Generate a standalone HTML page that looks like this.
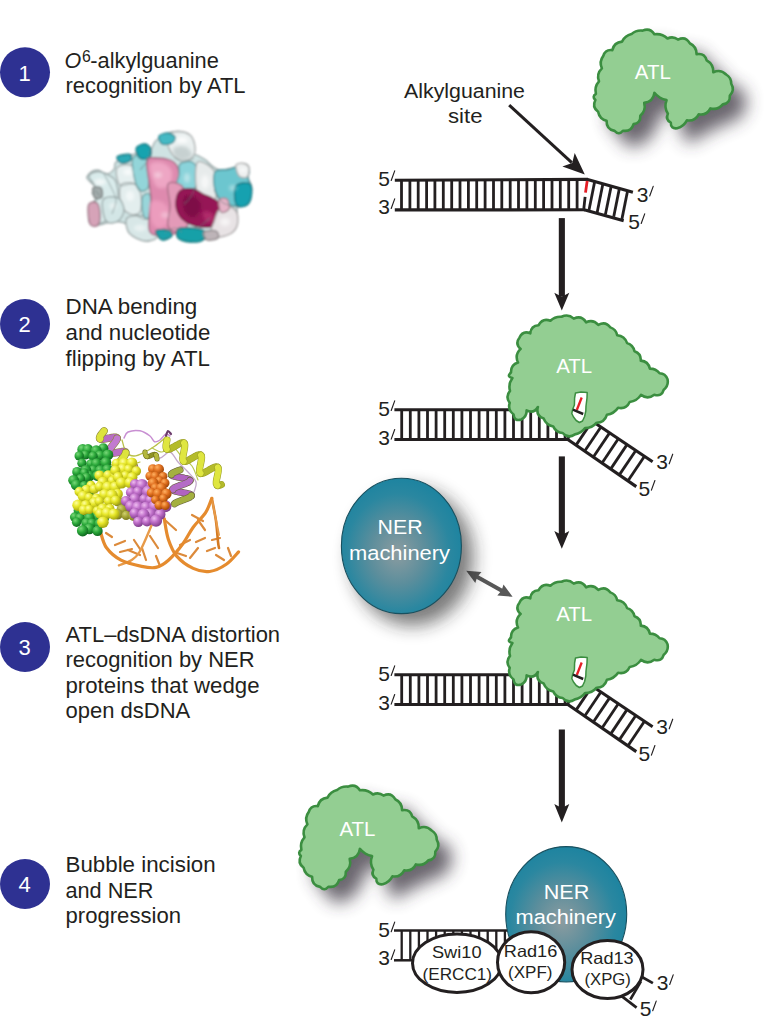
<!DOCTYPE html>
<html><head><meta charset="utf-8"><style>
html,body{margin:0;padding:0;background:#fff;}
body{width:775px;height:1024px;overflow:hidden;position:relative;}
svg{position:absolute;left:0;top:0;}
text{font-family:"Liberation Sans", sans-serif;}
</style></head><body>
<svg width="775" height="1024" viewBox="0 0 775 1024">
<defs><filter id="shadow" x="-40%" y="-40%" width="180%" height="180%"><feGaussianBlur stdDeviation="8.5"/></filter><filter id="sblur" x="-40%" y="-40%" width="180%" height="180%"><feGaussianBlur stdDeviation="9"/></filter><radialGradient id="nerg" cx="0.47" cy="0.55" r="0.58"><stop offset="0" stop-color="#8c9ca0"/><stop offset="0.4" stop-color="#5c8e9c"/><stop offset="0.75" stop-color="#2a87a0"/><stop offset="1" stop-color="#1a83a0"/></radialGradient><filter id="s1blur" x="-10%" y="-10%" width="120%" height="120%"><feGaussianBlur stdDeviation="0.8"/></filter><filter id="s1soft" x="-20%" y="-20%" width="140%" height="140%"><feGaussianBlur stdDeviation="1.8"/></filter><radialGradient id="gG" cx="0.35" cy="0.3" r="0.7"><stop offset="0" stop-color="#78d878"/><stop offset="0.5" stop-color="#2ba83a"/><stop offset="1" stop-color="#0f6a20"/></radialGradient><radialGradient id="gY" cx="0.35" cy="0.3" r="0.7"><stop offset="0" stop-color="#ffffa0"/><stop offset="0.45" stop-color="#e8e82c"/><stop offset="1" stop-color="#a8a810"/></radialGradient><radialGradient id="gO" cx="0.35" cy="0.3" r="0.7"><stop offset="0" stop-color="#d0d070"/><stop offset="0.5" stop-color="#a8a838"/><stop offset="1" stop-color="#7c7c20"/></radialGradient><radialGradient id="gP" cx="0.35" cy="0.3" r="0.7"><stop offset="0" stop-color="#eebcf0"/><stop offset="0.45" stop-color="#c070ca"/><stop offset="1" stop-color="#82408e"/></radialGradient><radialGradient id="gR" cx="0.35" cy="0.3" r="0.7"><stop offset="0" stop-color="#ffb060"/><stop offset="0.5" stop-color="#e07020"/><stop offset="1" stop-color="#a04808"/></radialGradient><filter id="s2blur" x="-10%" y="-10%" width="120%" height="120%"><feGaussianBlur stdDeviation="0.45"/></filter></defs>
<circle cx="25" cy="72.3" r="25" fill="#2e3192"/>
<text x="24.6" y="80.5" font-size="22" fill="#fff" text-anchor="middle">1</text>
<circle cx="25" cy="324" r="25" fill="#2e3192"/>
<text x="24.6" y="332.2" font-size="22" fill="#fff" text-anchor="middle">2</text>
<circle cx="25" cy="647" r="25" fill="#2e3192"/>
<text x="24.6" y="655.2" font-size="22" fill="#fff" text-anchor="middle">3</text>
<circle cx="25" cy="884" r="25" fill="#2e3192"/>
<text x="24.6" y="892.2" font-size="22" fill="#fff" text-anchor="middle">4</text>
<text x="64.6" y="67.8" font-size="21.5" font-style="italic" fill="#231f20">O</text>
<text x="81.9" y="61.6" font-size="15.8" fill="#231f20">6</text>
<text transform="translate(90.3,67.8) scale(1,1.075)" x="0" y="0" font-size="21" fill="#231f20" textLength="128.6" lengthAdjust="spacingAndGlyphs">-alkylguanine</text>
<text transform="translate(65.5,93) scale(1,1.075)" x="0" y="0" font-size="21" fill="#231f20" textLength="180" lengthAdjust="spacingAndGlyphs">recognition by ATL</text>
<text transform="translate(65.5,314.0) scale(1,1.075)" x="0" y="0" font-size="21" fill="#231f20" textLength="131.8" lengthAdjust="spacingAndGlyphs">DNA bending</text>
<text transform="translate(65.5,340.1) scale(1,1.075)" x="0" y="0" font-size="21" fill="#231f20" textLength="144.8" lengthAdjust="spacingAndGlyphs">and nucleotide</text>
<text transform="translate(65.5,366.2) scale(1,1.075)" x="0" y="0" font-size="21" fill="#231f20" textLength="144.4" lengthAdjust="spacingAndGlyphs">flipping by ATL</text>
<text transform="translate(65.5,641.8) scale(1,1.075)" x="0" y="0" font-size="21" fill="#231f20" textLength="214.6" lengthAdjust="spacingAndGlyphs">ATL–dsDNA distortion</text>
<text transform="translate(65.5,667.1999999999999) scale(1,1.075)" x="0" y="0" font-size="21" fill="#231f20" textLength="189" lengthAdjust="spacingAndGlyphs">recognition by NER</text>
<text transform="translate(65.5,692.5999999999999) scale(1,1.075)" x="0" y="0" font-size="21" fill="#231f20" textLength="194" lengthAdjust="spacingAndGlyphs">proteins that wedge</text>
<text transform="translate(65.5,718.0) scale(1,1.075)" x="0" y="0" font-size="21" fill="#231f20" textLength="124.8" lengthAdjust="spacingAndGlyphs">open dsDNA</text>
<text transform="translate(65.5,872.3) scale(1,1.075)" x="0" y="0" font-size="21" fill="#231f20" textLength="150.2" lengthAdjust="spacingAndGlyphs">Bubble incision</text>
<text transform="translate(65.5,897.8) scale(1,1.075)" x="0" y="0" font-size="21" fill="#231f20" textLength="88" lengthAdjust="spacingAndGlyphs">and NER</text>
<text transform="translate(65.5,923.3) scale(1,1.075)" x="0" y="0" font-size="21" fill="#231f20" textLength="115.5" lengthAdjust="spacingAndGlyphs">progression</text>
<line x1="394.8" y1="180.3" x2="587.5" y2="179.4" stroke="#231f20" stroke-width="3.1" stroke-linecap="butt"/>
<line x1="394.8" y1="209.9" x2="585.0" y2="209.8" stroke="#231f20" stroke-width="3.1" stroke-linecap="butt"/>
<line x1="586.7" y1="179.2" x2="632.9" y2="192.2" stroke="#231f20" stroke-width="3.1" stroke-linecap="butt"/>
<line x1="584.2" y1="209.8" x2="623.7" y2="220.8" stroke="#231f20" stroke-width="3.1" stroke-linecap="butt"/>
<line x1="401.5" y1="180.3" x2="401.5" y2="209.8" stroke="#231f20" stroke-width="2.8" stroke-linecap="butt"/>
<line x1="409.9" y1="180.3" x2="409.9" y2="209.8" stroke="#231f20" stroke-width="2.8" stroke-linecap="butt"/>
<line x1="418.2" y1="180.3" x2="418.2" y2="209.8" stroke="#231f20" stroke-width="2.8" stroke-linecap="butt"/>
<line x1="426.6" y1="180.3" x2="426.6" y2="209.8" stroke="#231f20" stroke-width="2.8" stroke-linecap="butt"/>
<line x1="434.9" y1="180.3" x2="434.9" y2="209.8" stroke="#231f20" stroke-width="2.8" stroke-linecap="butt"/>
<line x1="443.3" y1="180.3" x2="443.3" y2="209.8" stroke="#231f20" stroke-width="2.8" stroke-linecap="butt"/>
<line x1="451.7" y1="180.3" x2="451.7" y2="209.8" stroke="#231f20" stroke-width="2.8" stroke-linecap="butt"/>
<line x1="460.0" y1="180.3" x2="460.0" y2="209.8" stroke="#231f20" stroke-width="2.8" stroke-linecap="butt"/>
<line x1="468.4" y1="180.3" x2="468.4" y2="209.8" stroke="#231f20" stroke-width="2.8" stroke-linecap="butt"/>
<line x1="476.7" y1="180.3" x2="476.7" y2="209.8" stroke="#231f20" stroke-width="2.8" stroke-linecap="butt"/>
<line x1="485.1" y1="180.3" x2="485.1" y2="209.8" stroke="#231f20" stroke-width="2.8" stroke-linecap="butt"/>
<line x1="493.5" y1="180.3" x2="493.5" y2="209.8" stroke="#231f20" stroke-width="2.8" stroke-linecap="butt"/>
<line x1="501.8" y1="180.3" x2="501.8" y2="209.8" stroke="#231f20" stroke-width="2.8" stroke-linecap="butt"/>
<line x1="510.2" y1="180.3" x2="510.2" y2="209.8" stroke="#231f20" stroke-width="2.8" stroke-linecap="butt"/>
<line x1="518.5" y1="180.3" x2="518.5" y2="209.8" stroke="#231f20" stroke-width="2.8" stroke-linecap="butt"/>
<line x1="526.9" y1="180.3" x2="526.9" y2="209.8" stroke="#231f20" stroke-width="2.8" stroke-linecap="butt"/>
<line x1="535.3" y1="180.3" x2="535.3" y2="209.8" stroke="#231f20" stroke-width="2.8" stroke-linecap="butt"/>
<line x1="543.6" y1="180.3" x2="543.6" y2="209.8" stroke="#231f20" stroke-width="2.8" stroke-linecap="butt"/>
<line x1="552.0" y1="180.3" x2="552.0" y2="209.8" stroke="#231f20" stroke-width="2.8" stroke-linecap="butt"/>
<line x1="560.3" y1="180.3" x2="560.3" y2="209.8" stroke="#231f20" stroke-width="2.8" stroke-linecap="butt"/>
<line x1="568.7" y1="180.3" x2="568.7" y2="209.8" stroke="#231f20" stroke-width="2.8" stroke-linecap="butt"/>
<line x1="577.1" y1="180.3" x2="577.1" y2="209.8" stroke="#231f20" stroke-width="2.8" stroke-linecap="butt"/>
<line x1="594.7" y1="181.4" x2="589.0" y2="209.9" stroke="#231f20" stroke-width="2.8" stroke-linecap="butt"/>
<line x1="602.9" y1="183.8" x2="597.2" y2="212.2" stroke="#231f20" stroke-width="2.8" stroke-linecap="butt"/>
<line x1="611.2" y1="186.1" x2="605.4" y2="214.5" stroke="#231f20" stroke-width="2.8" stroke-linecap="butt"/>
<line x1="619.4" y1="188.4" x2="613.7" y2="216.8" stroke="#231f20" stroke-width="2.8" stroke-linecap="butt"/>
<line x1="627.6" y1="190.7" x2="621.9" y2="219.1" stroke="#231f20" stroke-width="2.8" stroke-linecap="butt"/>
<line x1="587.2" y1="180.9" x2="585.5" y2="192.6" stroke="#e41e26" stroke-width="2.8" stroke-linecap="butt"/>
<line x1="585.1" y1="196.8" x2="583.8" y2="208.8" stroke="#231f20" stroke-width="2.8" stroke-linecap="butt"/>
<text x="378.2" y="186.1" font-size="21" fill="#231f20">5</text>
<line x1="391.2" y1="180.5" x2="394.7" y2="170.9" stroke="#231f20" stroke-width="1.15" stroke-linecap="round"/>
<text x="378.2" y="214.1" font-size="21" fill="#231f20">3</text>
<line x1="391.2" y1="208.5" x2="394.7" y2="198.9" stroke="#231f20" stroke-width="1.15" stroke-linecap="round"/>
<text x="636.7" y="201.6" font-size="21" fill="#231f20">3</text>
<line x1="649.7" y1="196.0" x2="653.2" y2="186.4" stroke="#231f20" stroke-width="1.15" stroke-linecap="round"/>
<text x="628.2" y="229.1" font-size="21" fill="#231f20">5</text>
<line x1="641.2" y1="223.5" x2="644.7" y2="213.9" stroke="#231f20" stroke-width="1.15" stroke-linecap="round"/>
<line x1="394.4" y1="409.7" x2="576.5" y2="409.7" stroke="#231f20" stroke-width="3.1" stroke-linecap="butt"/>
<line x1="394.4" y1="439.5" x2="569.0" y2="439.5" stroke="#231f20" stroke-width="3.1" stroke-linecap="butt"/>
<line x1="401.7" y1="409.7" x2="401.7" y2="439.5" stroke="#231f20" stroke-width="2.8" stroke-linecap="butt"/>
<line x1="410.3" y1="409.7" x2="410.3" y2="439.5" stroke="#231f20" stroke-width="2.8" stroke-linecap="butt"/>
<line x1="418.9" y1="409.7" x2="418.9" y2="439.5" stroke="#231f20" stroke-width="2.8" stroke-linecap="butt"/>
<line x1="427.5" y1="409.7" x2="427.5" y2="439.5" stroke="#231f20" stroke-width="2.8" stroke-linecap="butt"/>
<line x1="436.1" y1="409.7" x2="436.1" y2="439.5" stroke="#231f20" stroke-width="2.8" stroke-linecap="butt"/>
<line x1="444.7" y1="409.7" x2="444.7" y2="439.5" stroke="#231f20" stroke-width="2.8" stroke-linecap="butt"/>
<line x1="453.3" y1="409.7" x2="453.3" y2="439.5" stroke="#231f20" stroke-width="2.8" stroke-linecap="butt"/>
<line x1="461.9" y1="409.7" x2="461.9" y2="439.5" stroke="#231f20" stroke-width="2.8" stroke-linecap="butt"/>
<line x1="470.5" y1="409.7" x2="470.5" y2="439.5" stroke="#231f20" stroke-width="2.8" stroke-linecap="butt"/>
<line x1="479.1" y1="409.7" x2="479.1" y2="439.5" stroke="#231f20" stroke-width="2.8" stroke-linecap="butt"/>
<line x1="487.7" y1="409.7" x2="487.7" y2="439.5" stroke="#231f20" stroke-width="2.8" stroke-linecap="butt"/>
<line x1="496.3" y1="409.7" x2="496.3" y2="439.5" stroke="#231f20" stroke-width="2.8" stroke-linecap="butt"/>
<line x1="504.9" y1="409.7" x2="504.9" y2="439.5" stroke="#231f20" stroke-width="2.8" stroke-linecap="butt"/>
<line x1="513.5" y1="409.7" x2="513.5" y2="439.5" stroke="#231f20" stroke-width="2.8" stroke-linecap="butt"/>
<line x1="522.1" y1="409.7" x2="522.1" y2="439.5" stroke="#231f20" stroke-width="2.8" stroke-linecap="butt"/>
<line x1="530.7" y1="409.7" x2="530.7" y2="439.5" stroke="#231f20" stroke-width="2.8" stroke-linecap="butt"/>
<line x1="539.3" y1="409.7" x2="539.3" y2="439.5" stroke="#231f20" stroke-width="2.8" stroke-linecap="butt"/>
<line x1="547.9" y1="409.7" x2="547.9" y2="439.5" stroke="#231f20" stroke-width="2.8" stroke-linecap="butt"/>
<line x1="556.5" y1="409.7" x2="556.5" y2="439.5" stroke="#231f20" stroke-width="2.8" stroke-linecap="butt"/>
<line x1="565.1" y1="409.7" x2="565.1" y2="439.5" stroke="#231f20" stroke-width="2.8" stroke-linecap="butt"/>
<line x1="575.2" y1="409.7" x2="652.6" y2="461.8" stroke="#231f20" stroke-width="3.1" stroke-linecap="butt"/>
<line x1="568.2" y1="439.8" x2="636.3" y2="486.6" stroke="#231f20" stroke-width="3.1" stroke-linecap="butt"/>
<line x1="583.5" y1="415.3" x2="567.0" y2="439.8" stroke="#231f20" stroke-width="2.8" stroke-linecap="butt"/>
<line x1="592.2" y1="421.1" x2="575.7" y2="445.6" stroke="#231f20" stroke-width="2.8" stroke-linecap="butt"/>
<line x1="600.9" y1="427.0" x2="584.4" y2="451.5" stroke="#231f20" stroke-width="2.8" stroke-linecap="butt"/>
<line x1="609.6" y1="432.9" x2="593.2" y2="457.3" stroke="#231f20" stroke-width="2.8" stroke-linecap="butt"/>
<line x1="618.3" y1="438.7" x2="601.9" y2="463.2" stroke="#231f20" stroke-width="2.8" stroke-linecap="butt"/>
<line x1="627.0" y1="444.6" x2="610.6" y2="469.1" stroke="#231f20" stroke-width="2.8" stroke-linecap="butt"/>
<line x1="635.8" y1="450.5" x2="619.3" y2="474.9" stroke="#231f20" stroke-width="2.8" stroke-linecap="butt"/>
<line x1="644.5" y1="456.3" x2="628.0" y2="480.8" stroke="#231f20" stroke-width="2.8" stroke-linecap="butt"/>
<text x="378.2" y="416.1" font-size="21" fill="#231f20">5</text>
<line x1="391.2" y1="410.5" x2="394.7" y2="400.9" stroke="#231f20" stroke-width="1.15" stroke-linecap="round"/>
<text x="378.2" y="444.70000000000005" font-size="21" fill="#231f20">3</text>
<line x1="391.2" y1="439.1" x2="394.7" y2="429.5" stroke="#231f20" stroke-width="1.15" stroke-linecap="round"/>
<text x="656.2" y="469.40000000000003" font-size="21" fill="#231f20">3</text>
<line x1="669.2" y1="463.8" x2="672.7" y2="454.2" stroke="#231f20" stroke-width="1.15" stroke-linecap="round"/>
<text x="638.4000000000001" y="495.70000000000005" font-size="21" fill="#231f20">5</text>
<line x1="651.4" y1="490.1" x2="654.9" y2="480.5" stroke="#231f20" stroke-width="1.15" stroke-linecap="round"/>
<line x1="394.4" y1="674.7" x2="576.5" y2="674.7" stroke="#231f20" stroke-width="3.1" stroke-linecap="butt"/>
<line x1="394.4" y1="704.5" x2="569.0" y2="704.5" stroke="#231f20" stroke-width="3.1" stroke-linecap="butt"/>
<line x1="401.7" y1="674.7" x2="401.7" y2="704.5" stroke="#231f20" stroke-width="2.8" stroke-linecap="butt"/>
<line x1="410.3" y1="674.7" x2="410.3" y2="704.5" stroke="#231f20" stroke-width="2.8" stroke-linecap="butt"/>
<line x1="418.9" y1="674.7" x2="418.9" y2="704.5" stroke="#231f20" stroke-width="2.8" stroke-linecap="butt"/>
<line x1="427.5" y1="674.7" x2="427.5" y2="704.5" stroke="#231f20" stroke-width="2.8" stroke-linecap="butt"/>
<line x1="436.1" y1="674.7" x2="436.1" y2="704.5" stroke="#231f20" stroke-width="2.8" stroke-linecap="butt"/>
<line x1="444.7" y1="674.7" x2="444.7" y2="704.5" stroke="#231f20" stroke-width="2.8" stroke-linecap="butt"/>
<line x1="453.3" y1="674.7" x2="453.3" y2="704.5" stroke="#231f20" stroke-width="2.8" stroke-linecap="butt"/>
<line x1="461.9" y1="674.7" x2="461.9" y2="704.5" stroke="#231f20" stroke-width="2.8" stroke-linecap="butt"/>
<line x1="470.5" y1="674.7" x2="470.5" y2="704.5" stroke="#231f20" stroke-width="2.8" stroke-linecap="butt"/>
<line x1="479.1" y1="674.7" x2="479.1" y2="704.5" stroke="#231f20" stroke-width="2.8" stroke-linecap="butt"/>
<line x1="487.7" y1="674.7" x2="487.7" y2="704.5" stroke="#231f20" stroke-width="2.8" stroke-linecap="butt"/>
<line x1="496.3" y1="674.7" x2="496.3" y2="704.5" stroke="#231f20" stroke-width="2.8" stroke-linecap="butt"/>
<line x1="504.9" y1="674.7" x2="504.9" y2="704.5" stroke="#231f20" stroke-width="2.8" stroke-linecap="butt"/>
<line x1="513.5" y1="674.7" x2="513.5" y2="704.5" stroke="#231f20" stroke-width="2.8" stroke-linecap="butt"/>
<line x1="522.1" y1="674.7" x2="522.1" y2="704.5" stroke="#231f20" stroke-width="2.8" stroke-linecap="butt"/>
<line x1="530.7" y1="674.7" x2="530.7" y2="704.5" stroke="#231f20" stroke-width="2.8" stroke-linecap="butt"/>
<line x1="539.3" y1="674.7" x2="539.3" y2="704.5" stroke="#231f20" stroke-width="2.8" stroke-linecap="butt"/>
<line x1="547.9" y1="674.7" x2="547.9" y2="704.5" stroke="#231f20" stroke-width="2.8" stroke-linecap="butt"/>
<line x1="556.5" y1="674.7" x2="556.5" y2="704.5" stroke="#231f20" stroke-width="2.8" stroke-linecap="butt"/>
<line x1="565.1" y1="674.7" x2="565.1" y2="704.5" stroke="#231f20" stroke-width="2.8" stroke-linecap="butt"/>
<line x1="575.2" y1="674.7" x2="652.6" y2="726.8" stroke="#231f20" stroke-width="3.1" stroke-linecap="butt"/>
<line x1="568.2" y1="704.8" x2="636.3" y2="751.6" stroke="#231f20" stroke-width="3.1" stroke-linecap="butt"/>
<line x1="583.5" y1="680.3" x2="567.0" y2="704.8" stroke="#231f20" stroke-width="2.8" stroke-linecap="butt"/>
<line x1="592.2" y1="686.1" x2="575.7" y2="710.6" stroke="#231f20" stroke-width="2.8" stroke-linecap="butt"/>
<line x1="600.9" y1="692.0" x2="584.4" y2="716.5" stroke="#231f20" stroke-width="2.8" stroke-linecap="butt"/>
<line x1="609.6" y1="697.9" x2="593.2" y2="722.3" stroke="#231f20" stroke-width="2.8" stroke-linecap="butt"/>
<line x1="618.3" y1="703.7" x2="601.9" y2="728.2" stroke="#231f20" stroke-width="2.8" stroke-linecap="butt"/>
<line x1="627.0" y1="709.6" x2="610.6" y2="734.1" stroke="#231f20" stroke-width="2.8" stroke-linecap="butt"/>
<line x1="635.8" y1="715.5" x2="619.3" y2="739.9" stroke="#231f20" stroke-width="2.8" stroke-linecap="butt"/>
<line x1="644.5" y1="721.3" x2="628.0" y2="745.8" stroke="#231f20" stroke-width="2.8" stroke-linecap="butt"/>
<text x="378.2" y="681.1" font-size="21" fill="#231f20">5</text>
<line x1="391.2" y1="675.5" x2="394.7" y2="665.9" stroke="#231f20" stroke-width="1.15" stroke-linecap="round"/>
<text x="378.2" y="709.7" font-size="21" fill="#231f20">3</text>
<line x1="391.2" y1="704.1" x2="394.7" y2="694.5" stroke="#231f20" stroke-width="1.15" stroke-linecap="round"/>
<text x="656.2" y="734.4" font-size="21" fill="#231f20">3</text>
<line x1="669.2" y1="728.8" x2="672.7" y2="719.2" stroke="#231f20" stroke-width="1.15" stroke-linecap="round"/>
<text x="638.4000000000001" y="760.7" font-size="21" fill="#231f20">5</text>
<line x1="651.4" y1="755.1" x2="654.9" y2="745.5" stroke="#231f20" stroke-width="1.15" stroke-linecap="round"/>
<rect x="558.8" y="218.1" width="6.1" height="78.6" fill="#231f20"/>
<path d="M554.3,292.7 L561.8,296.7 L569.3,292.7 L561.8,310.4 Z" fill="#231f20"/>
<rect x="558.8" y="456.4" width="6.1" height="78.70000000000005" fill="#231f20"/>
<path d="M554.3,531.1 L561.8,535.1 L569.3,531.1 L561.8,548.8 Z" fill="#231f20"/>
<rect x="558.8" y="729.5" width="6.1" height="78.60000000000002" fill="#231f20"/>
<path d="M554.3,804.1 L561.8,808.1 L569.3,804.1 L561.8,822.4 Z" fill="#231f20"/>
<line x1="509.2" y1="105.2" x2="571.8" y2="162.7" stroke="#231f20" stroke-width="3.0"/>
<path d="M584.8,174.6 L562.4,166.4 L572.2,163.0 L574.7,153.0 Z" fill="#231f20"/>
<line x1="476.0" y1="576.3" x2="502.8" y2="591.3" stroke="#585858" stroke-width="4.0"/>
<path d="M512.6,596.8 L497.3,595.5 L501.6,590.6 L503.5,584.5 Z" fill="#585858"/>
<path d="M466.2,570.8 L475.3,583.1 L477.2,577.0 L481.5,572.1 Z" fill="#585858"/>
<text x="404" y="97.9" font-size="20" fill="#231f20" textLength="121" lengthAdjust="spacingAndGlyphs">Alkylguanine</text>
<text x="448" y="122.8" font-size="20" fill="#231f20" textLength="34.5" lengthAdjust="spacingAndGlyphs">site</text>
<path d="M595.9,93.8 Q594.2,86.7 599.0,81.3 Q596.2,73.9 601.9,68.4 Q598.9,61.7 603.3,55.9 Q605.3,49.2 612.3,50.1 Q614.0,42.4 622.0,41.6 Q625.0,35.7 631.5,34.1 Q636.2,29.9 642.6,30.6 Q650.1,27.4 654.4,34.3 Q662.0,33.2 667.5,38.5 Q673.1,35.7 678.0,39.6 Q685.6,35.8 689.7,43.2 Q696.7,46.5 696.6,54.2 Q704.5,52.7 706.7,60.3 Q713.7,64.3 713.3,72.3 Q720.5,68.8 726.1,74.5 Q731.3,77.6 731.2,83.6 Q735.1,90.2 729.8,95.7 Q730.5,103.4 722.8,104.4 Q717.9,110.4 710.4,108.4 Q706.8,115.8 698.7,114.3 Q695.0,121.6 686.9,120.3 Q683.8,126.4 677.2,128.3 Q670.6,129.2 670.8,122.6 Q665.1,119.6 667.9,113.8 Q663.7,107.3 666.6,100.1 Q659.1,98.7 654.4,92.8 Q653.2,101.7 644.2,102.9 Q646.2,110.6 640.3,115.8 Q640.8,123.0 633.6,124.1 Q631.1,132.1 622.9,130.7 Q618.9,135.7 614.6,130.9 Q606.2,129.4 606.6,120.8 Q599.5,118.9 598.1,111.7 Q591.7,107.0 595.4,100.0 Q591.7,96.6 595.9,93.8Z" fill="#38323e" opacity="0.75" transform="translate(14,14)" filter="url(#shadow)"/>
<path d="M595.9,93.8 Q594.2,86.7 599.0,81.3 Q596.2,73.9 601.9,68.4 Q598.9,61.7 603.3,55.9 Q605.3,49.2 612.3,50.1 Q614.0,42.4 622.0,41.6 Q625.0,35.7 631.5,34.1 Q636.2,29.9 642.6,30.6 Q650.1,27.4 654.4,34.3 Q662.0,33.2 667.5,38.5 Q673.1,35.7 678.0,39.6 Q685.6,35.8 689.7,43.2 Q696.7,46.5 696.6,54.2 Q704.5,52.7 706.7,60.3 Q713.7,64.3 713.3,72.3 Q720.5,68.8 726.1,74.5 Q731.3,77.6 731.2,83.6 Q735.1,90.2 729.8,95.7 Q730.5,103.4 722.8,104.4 Q717.9,110.4 710.4,108.4 Q706.8,115.8 698.7,114.3 Q695.0,121.6 686.9,120.3 Q683.8,126.4 677.2,128.3 Q670.6,129.2 670.8,122.6 Q665.1,119.6 667.9,113.8 Q663.7,107.3 666.6,100.1 Q659.1,98.7 654.4,92.8 Q653.2,101.7 644.2,102.9 Q646.2,110.6 640.3,115.8 Q640.8,123.0 633.6,124.1 Q631.1,132.1 622.9,130.7 Q618.9,135.7 614.6,130.9 Q606.2,129.4 606.6,120.8 Q599.5,118.9 598.1,111.7 Q591.7,107.0 595.4,100.0 Q591.7,96.6 595.9,93.8Z" fill="#93ce92" stroke="#3b8e40" stroke-width="2.6" stroke-linejoin="round"/>
<text x="634.8" y="79.3" font-size="20" fill="#fff" textLength="36" lengthAdjust="spacingAndGlyphs">ATL</text>
<path d="M511.0,372.5 Q510.7,364.8 518.0,362.5 Q514.4,354.8 520.6,348.9 Q514.8,343.9 519.4,337.8 Q522.7,330.3 530.3,333.3 Q531.0,325.6 538.6,325.2 Q542.5,317.7 550.4,320.7 Q555.1,316.3 561.5,316.8 Q568.3,313.6 573.8,318.6 Q581.6,315.0 586.1,322.3 Q593.1,319.0 598.3,324.9 Q605.5,320.7 610.4,327.4 Q616.0,329.4 617.2,335.2 Q624.6,335.8 627.0,342.9 Q633.2,344.8 634.5,351.2 Q641.2,353.5 640.8,360.6 Q648.2,361.2 649.9,368.6 Q655.9,368.6 659.6,373.3 Q665.4,373.6 667.5,379.1 Q668.9,385.5 663.8,389.7 Q661.7,397.1 654.3,394.7 Q647.7,399.9 641.0,394.9 Q637.0,401.0 629.7,402.0 Q626.2,409.5 618.1,407.8 Q614.1,413.8 606.9,414.8 Q604.6,422.4 596.7,422.7 Q592.1,428.1 585.1,428.1 Q581.3,433.4 574.9,434.4 Q568.2,439.1 562.7,433.0 Q556.1,432.5 553.3,426.6 Q546.3,425.1 543.6,418.5 Q535.5,415.3 537.9,407.0 Q533.9,413.9 526.6,410.4 Q526.9,416.8 521.2,419.5 Q514.2,421.8 513.6,414.5 Q507.5,410.0 509.7,402.9 Q505.1,396.8 510.0,390.9 Q508.1,383.9 512.4,378.0 Q506.2,376.7 511.0,372.5Z" fill="#93ce92" stroke="#3b8e40" stroke-width="2.6" stroke-linejoin="round"/>
<text x="556.2" y="372.8" font-size="20" fill="#fff" textLength="36" lengthAdjust="spacingAndGlyphs">ATL</text>
<path d="M575.5,392.9 L581.0,392.0 L587.2,392.6 L587.0,398.0 L586.0,406.0 L585.8,411.0 L584.6,416.5 L582.5,421.0 L579.4,422.5 L576.2,420.5 L573.5,417.0 L571.8,413.5 L572.6,409.6 L574.4,405.0 L574.6,398.0Z" fill="#fff" stroke="#3b8e40" stroke-width="1.5" stroke-linejoin="round"/>
<line x1="581.7" y1="397.5" x2="576.8" y2="410.0" stroke="#e41e26" stroke-width="2.3" stroke-linecap="butt"/>
<line x1="572.9" y1="409.6" x2="583.2" y2="414.0" stroke="#231f20" stroke-width="2.5" stroke-linecap="butt"/>
<path d="M511.0,637.5 Q510.7,629.8 518.0,627.5 Q514.4,619.8 520.6,613.9 Q514.8,608.9 519.4,602.8 Q522.7,595.3 530.3,598.3 Q531.0,590.6 538.6,590.2 Q542.5,582.7 550.4,585.7 Q555.1,581.3 561.5,581.8 Q568.3,578.6 573.8,583.6 Q581.6,580.0 586.1,587.3 Q593.1,584.0 598.3,589.9 Q605.5,585.7 610.4,592.4 Q616.0,594.4 617.2,600.2 Q624.6,600.8 627.0,607.9 Q633.2,609.8 634.5,616.2 Q641.2,618.5 640.8,625.6 Q648.2,626.2 649.9,633.6 Q655.9,633.6 659.6,638.3 Q665.4,638.6 667.5,644.1 Q668.9,650.5 663.8,654.7 Q661.7,662.1 654.3,659.7 Q647.7,664.9 641.0,659.9 Q637.0,666.0 629.7,667.0 Q626.2,674.5 618.1,672.8 Q614.1,678.8 606.9,679.8 Q604.6,687.4 596.7,687.7 Q592.1,693.1 585.1,693.1 Q581.3,698.4 574.9,699.4 Q568.2,704.1 562.7,698.0 Q556.1,697.5 553.3,691.6 Q546.3,690.1 543.6,683.5 Q535.5,680.3 537.9,672.0 Q533.9,678.9 526.6,675.4 Q526.9,681.8 521.2,684.5 Q514.2,686.8 513.6,679.5 Q507.5,675.0 509.7,667.9 Q505.1,661.8 510.0,655.9 Q508.1,648.9 512.4,643.0 Q506.2,641.7 511.0,637.5Z" fill="#93ce92" stroke="#3b8e40" stroke-width="2.6" stroke-linejoin="round"/>
<text x="556.2" y="620.5" font-size="20" fill="#fff" textLength="36" lengthAdjust="spacingAndGlyphs">ATL</text>
<path d="M575.5,657.9 L581.0,657.0 L587.2,657.6 L587.0,663.0 L586.0,671.0 L585.8,676.0 L584.6,681.5 L582.5,686.0 L579.4,687.5 L576.2,685.5 L573.5,682.0 L571.8,678.5 L572.6,674.6 L574.4,670.0 L574.6,663.0Z" fill="#fff" stroke="#3b8e40" stroke-width="1.5" stroke-linejoin="round"/>
<line x1="581.7" y1="662.5" x2="576.8" y2="675.0" stroke="#e41e26" stroke-width="2.3" stroke-linecap="butt"/>
<line x1="572.9" y1="674.6" x2="583.2" y2="679.0" stroke="#231f20" stroke-width="2.5" stroke-linecap="butt"/>
<path d="M301.4,849.8 Q299.7,842.7 304.5,837.3 Q301.7,829.9 307.4,824.4 Q304.4,817.7 308.8,811.9 Q310.8,805.2 317.8,806.1 Q319.5,798.4 327.5,797.6 Q330.5,791.7 337.0,790.1 Q341.7,785.9 348.1,786.6 Q355.6,783.4 359.9,790.3 Q367.5,789.2 373.0,794.5 Q378.6,791.7 383.5,795.6 Q391.1,791.8 395.2,799.2 Q402.2,802.5 402.1,810.2 Q410.0,808.7 412.2,816.3 Q419.2,820.3 418.8,828.3 Q426.0,824.8 431.6,830.5 Q436.8,833.6 436.7,839.6 Q440.6,846.2 435.3,851.7 Q436.0,859.4 428.3,860.4 Q423.4,866.4 415.9,864.4 Q412.3,871.8 404.2,870.3 Q400.5,877.6 392.4,876.3 Q389.3,882.4 382.7,884.3 Q376.1,885.2 376.3,878.6 Q370.6,875.6 373.4,869.8 Q369.2,863.3 372.1,856.1 Q364.6,854.7 359.9,848.8 Q358.7,857.7 349.7,858.9 Q351.7,866.6 345.8,871.8 Q346.3,879.0 339.1,880.1 Q336.6,888.1 328.4,886.7 Q324.4,891.7 320.1,886.9 Q311.7,885.4 312.1,876.8 Q305.0,874.9 303.6,867.7 Q297.2,863.0 300.9,856.0 Q297.2,852.6 301.4,849.8Z" fill="#38323e" opacity="0.75" transform="translate(14,14)" filter="url(#shadow)"/>
<path d="M301.4,849.8 Q299.7,842.7 304.5,837.3 Q301.7,829.9 307.4,824.4 Q304.4,817.7 308.8,811.9 Q310.8,805.2 317.8,806.1 Q319.5,798.4 327.5,797.6 Q330.5,791.7 337.0,790.1 Q341.7,785.9 348.1,786.6 Q355.6,783.4 359.9,790.3 Q367.5,789.2 373.0,794.5 Q378.6,791.7 383.5,795.6 Q391.1,791.8 395.2,799.2 Q402.2,802.5 402.1,810.2 Q410.0,808.7 412.2,816.3 Q419.2,820.3 418.8,828.3 Q426.0,824.8 431.6,830.5 Q436.8,833.6 436.7,839.6 Q440.6,846.2 435.3,851.7 Q436.0,859.4 428.3,860.4 Q423.4,866.4 415.9,864.4 Q412.3,871.8 404.2,870.3 Q400.5,877.6 392.4,876.3 Q389.3,882.4 382.7,884.3 Q376.1,885.2 376.3,878.6 Q370.6,875.6 373.4,869.8 Q369.2,863.3 372.1,856.1 Q364.6,854.7 359.9,848.8 Q358.7,857.7 349.7,858.9 Q351.7,866.6 345.8,871.8 Q346.3,879.0 339.1,880.1 Q336.6,888.1 328.4,886.7 Q324.4,891.7 320.1,886.9 Q311.7,885.4 312.1,876.8 Q305.0,874.9 303.6,867.7 Q297.2,863.0 300.9,856.0 Q297.2,852.6 301.4,849.8Z" fill="#93ce92" stroke="#3b8e40" stroke-width="2.6" stroke-linejoin="round"/>
<text x="339.4" y="835.5" font-size="20" fill="#fff" textLength="36" lengthAdjust="spacingAndGlyphs">ATL</text>
<ellipse cx="412.4" cy="556.9" rx="61" ry="68.7" fill="#222" opacity="0.6" filter="url(#sblur)"/>
<ellipse cx="401.4" cy="545.9" rx="60" ry="67.7" fill="url(#nerg)" stroke="#18505f" stroke-width="1.1"/>
<text x="377.6" y="534.1" font-size="20.5" fill="#fff" textLength="45" lengthAdjust="spacingAndGlyphs">NER</text>
<text x="349" y="559.8" font-size="20.5" fill="#fff" textLength="101" lengthAdjust="spacingAndGlyphs">machinery</text>
<line x1="394.0" y1="930.5" x2="508.0" y2="930.5" stroke="#231f20" stroke-width="2.5" stroke-linecap="butt"/>
<line x1="394.0" y1="960.3" x2="420.0" y2="960.3" stroke="#231f20" stroke-width="2.5" stroke-linecap="butt"/>
<line x1="401.7" y1="930.5" x2="401.7" y2="960.3" stroke="#231f20" stroke-width="2.3" stroke-linecap="butt"/>
<line x1="410.3" y1="930.5" x2="410.3" y2="960.3" stroke="#231f20" stroke-width="2.3" stroke-linecap="butt"/>
<line x1="418.9" y1="930.5" x2="418.9" y2="960.3" stroke="#231f20" stroke-width="2.3" stroke-linecap="butt"/>
<line x1="427.5" y1="930.5" x2="427.5" y2="960.3" stroke="#231f20" stroke-width="2.3" stroke-linecap="butt"/>
<line x1="436.1" y1="930.5" x2="436.1" y2="960.3" stroke="#231f20" stroke-width="2.3" stroke-linecap="butt"/>
<line x1="444.7" y1="930.5" x2="444.7" y2="960.3" stroke="#231f20" stroke-width="2.3" stroke-linecap="butt"/>
<line x1="453.3" y1="930.5" x2="453.3" y2="960.3" stroke="#231f20" stroke-width="2.3" stroke-linecap="butt"/>
<line x1="461.9" y1="930.5" x2="461.9" y2="960.3" stroke="#231f20" stroke-width="2.3" stroke-linecap="butt"/>
<line x1="470.5" y1="930.5" x2="470.5" y2="960.3" stroke="#231f20" stroke-width="2.3" stroke-linecap="butt"/>
<line x1="479.1" y1="930.5" x2="479.1" y2="960.3" stroke="#231f20" stroke-width="2.3" stroke-linecap="butt"/>
<line x1="487.7" y1="930.5" x2="487.7" y2="960.3" stroke="#231f20" stroke-width="2.3" stroke-linecap="butt"/>
<line x1="496.3" y1="930.5" x2="496.3" y2="960.3" stroke="#231f20" stroke-width="2.3" stroke-linecap="butt"/>
<line x1="504.9" y1="930.5" x2="504.9" y2="960.3" stroke="#231f20" stroke-width="2.3" stroke-linecap="butt"/>
<text x="378.2" y="937.3000000000001" font-size="21" fill="#231f20">5</text>
<line x1="391.2" y1="931.7" x2="394.7" y2="922.1" stroke="#231f20" stroke-width="1.15" stroke-linecap="round"/>
<text x="378.2" y="965.1" font-size="21" fill="#231f20">3</text>
<line x1="391.2" y1="959.5" x2="394.7" y2="949.9" stroke="#231f20" stroke-width="1.15" stroke-linecap="round"/>
<ellipse cx="566.2" cy="914.3" rx="60.5" ry="67.7" fill="url(#nerg)" stroke="#18505f" stroke-width="1.1"/>
<text x="543.8" y="898.8" font-size="20.5" fill="#fff" textLength="45.5" lengthAdjust="spacingAndGlyphs">NER</text>
<text x="515.5" y="924.3" font-size="20.5" fill="#fff" textLength="100.5" lengthAdjust="spacingAndGlyphs">machinery</text>
<line x1="642.0" y1="977.0" x2="652.9" y2="983.2" stroke="#231f20" stroke-width="2.7" stroke-linecap="butt"/>
<line x1="621.3" y1="995.9" x2="636.6" y2="1007.6" stroke="#231f20" stroke-width="2.7" stroke-linecap="butt"/>
<line x1="641.0" y1="981.4" x2="630.3" y2="999.5" stroke="#231f20" stroke-width="2.6" stroke-linecap="butt"/>
<text x="656.7" y="990.1" font-size="21" fill="#231f20">3</text>
<line x1="669.7" y1="984.5" x2="673.2" y2="974.9" stroke="#231f20" stroke-width="1.15" stroke-linecap="round"/>
<text x="639.7" y="1016.3000000000001" font-size="21" fill="#231f20">5</text>
<line x1="652.7" y1="1010.7" x2="656.2" y2="1001.1" stroke="#231f20" stroke-width="1.15" stroke-linecap="round"/>
<ellipse cx="457" cy="963.2" rx="44.5" ry="29.2" fill="#fff" stroke="#231f20" stroke-width="3"/>
<text x="432" y="957.5" font-size="16.5" fill="#231f20" textLength="49.5" lengthAdjust="spacingAndGlyphs">Swi10</text>
<text x="422.5" y="980" font-size="16.5" fill="#231f20" textLength="69.5" lengthAdjust="spacingAndGlyphs">(ERCC1)</text>
<ellipse cx="531.1" cy="962.2" rx="33.6" ry="30.5" fill="#fff" stroke="#231f20" stroke-width="3"/>
<text x="503.8" y="957" font-size="16.5" fill="#231f20" textLength="53.5" lengthAdjust="spacingAndGlyphs">Rad16</text>
<text x="508" y="977.6" font-size="16.5" fill="#231f20" textLength="44.5" lengthAdjust="spacingAndGlyphs">(XPF)</text>
<ellipse cx="607.5" cy="969.5" rx="35.5" ry="29.0" fill="#fff" stroke="#231f20" stroke-width="3"/>
<text x="580.2" y="963.8" font-size="16.5" fill="#231f20" textLength="53.5" lengthAdjust="spacingAndGlyphs">Rad13</text>
<text x="584.4" y="984.9" font-size="16.5" fill="#231f20" textLength="46.5" lengthAdjust="spacingAndGlyphs">(XPG)</text>
<g filter="url(#s1blur)"><path d="M87.3,176.3 C88.1,175.1 90.4,172.4 92.2,171.4 C94.0,170.4 96.5,170.0 98.3,170.2 C100.1,170.4 101.6,172.0 103.2,172.6 C104.8,173.2 106.3,174.4 108.1,173.8 C109.9,173.2 113.0,170.8 114.2,169.0 C115.4,167.2 114.2,164.7 115.4,162.9 C116.6,161.1 119.3,159.2 121.5,158.0 C123.7,156.8 126.4,156.3 128.8,155.5 C131.2,154.7 134.4,154.7 136.2,153.1 C138.0,151.5 138.2,147.2 139.8,145.8 C141.4,144.4 144.1,143.9 145.9,144.5 C147.7,145.1 149.2,150.0 150.8,149.4 C152.4,148.8 153.2,143.3 155.7,140.9 C158.1,138.5 163.1,136.2 165.5,134.8 C167.9,133.4 167.7,132.9 170.0,132.3 C172.3,131.8 176.1,131.0 179.4,131.5 C182.7,132.0 187.2,133.2 189.7,135.3 C192.2,137.5 193.6,141.4 194.2,144.4 C194.8,147.4 192.8,151.5 193.5,153.4 C194.2,155.3 196.8,154.9 198.7,156.0 C200.6,157.1 202.6,157.9 205.2,159.8 C207.8,161.7 211.6,165.9 214.2,167.6 C216.8,169.3 218.2,170.0 220.6,170.2 C223.0,170.4 225.6,169.6 228.4,168.9 C231.2,168.2 234.8,167.2 237.4,166.3 C240.0,165.4 242.0,163.5 243.9,163.7 C245.8,163.9 248.4,165.4 249.0,167.6 C249.6,169.8 247.3,173.4 247.7,176.6 C248.1,179.8 251.2,183.4 251.6,186.9 C252.0,190.4 251.4,194.3 250.3,197.3 C249.2,200.3 247.3,203.3 245.2,205.0 C243.0,206.7 238.7,205.4 237.4,207.6 C236.1,209.8 237.8,214.5 237.4,217.9 C237.0,221.3 236.5,225.6 234.8,228.2 C233.1,230.8 230.1,231.9 227.1,233.4 C224.1,234.9 219.8,236.5 216.8,237.3 C213.8,238.2 211.8,238.1 209.0,238.5 C206.2,238.9 203.2,239.8 200.0,239.8 C196.8,239.8 192.9,239.1 189.7,238.5 C186.5,237.9 183.4,237.1 180.6,236.0 C177.8,234.9 175.5,232.6 172.9,232.1 C170.3,231.6 167.5,232.5 165.0,233.0 C162.5,233.5 160.9,233.6 158.1,234.9 C155.3,236.2 151.8,240.4 148.4,241.0 C145.0,241.6 140.7,240.0 137.4,238.6 C134.1,237.2 130.6,234.8 128.8,232.4 C127.0,230.0 128.6,225.7 126.4,223.9 C124.2,222.1 118.5,221.7 115.4,221.5 C112.4,221.3 110.9,222.1 108.1,222.7 C105.2,223.3 101.1,224.9 98.3,225.1 C95.5,225.3 92.6,225.1 91.0,223.9 C89.4,222.7 88.5,221.1 88.5,217.8 C88.5,214.6 89.6,207.7 91.0,204.4 C92.4,201.2 96.9,200.1 97.1,198.3 C97.3,196.5 92.4,195.0 92.2,193.4 C92.0,191.8 95.7,189.9 95.9,188.5 C96.1,187.1 94.8,186.4 93.4,184.8 C92.0,183.2 88.3,180.1 87.3,178.7 C86.3,177.3 86.5,177.5 87.3,176.3Z" fill="#cfe3e3" stroke="#95a3a3" stroke-width="1.3" opacity="1"/><path d="M89.0,176.0 C89.5,173.6 94.8,171.7 98.0,171.5 C101.2,171.3 105.2,173.6 108.0,175.0 C110.8,176.4 113.3,176.7 115.0,180.0 C116.7,183.3 118.0,189.7 118.0,195.0 C118.0,200.3 117.0,207.7 115.0,212.0 C113.0,216.3 109.2,219.3 106.0,221.0 C102.8,222.7 98.3,224.2 96.0,222.0 C93.7,219.8 91.8,212.0 92.0,208.0 C92.2,204.0 96.5,201.7 97.0,198.0 C97.5,194.3 96.3,189.7 95.0,186.0 C93.7,182.3 88.5,178.4 89.0,176.0Z" fill="#d9ebeb" stroke="#9ca9a9" stroke-width="1.3" opacity="1"/><path d="M117.0,168.0 C118.8,164.8 126.3,164.3 130.0,165.0 C133.7,165.7 137.5,168.5 139.0,172.0 C140.5,175.5 140.5,183.2 139.0,186.0 C137.5,188.8 133.3,189.3 130.0,189.0 C126.7,188.7 121.2,187.5 119.0,184.0 C116.8,180.5 115.2,171.2 117.0,168.0Z" fill="#e6f0f0" stroke="#a5acac" stroke-width="1.3" opacity="1"/><path d="M121.0,185.0 C123.3,181.7 131.7,182.2 135.0,184.0 C138.3,185.8 140.2,191.3 141.0,196.0 C141.8,200.7 141.8,209.0 140.0,212.0 C138.2,215.0 133.2,215.3 130.0,214.0 C126.8,212.7 122.5,208.8 121.0,204.0 C119.5,199.2 118.7,188.3 121.0,185.0Z" fill="#e3eeee" stroke="#a3abab" stroke-width="1.3" opacity="1"/><path d="M103.0,200.0 C105.0,196.2 114.5,196.3 118.0,198.0 C121.5,199.7 124.0,206.2 124.0,210.0 C124.0,213.8 121.0,219.2 118.0,221.0 C115.0,222.8 108.5,224.5 106.0,221.0 C103.5,217.5 101.0,203.8 103.0,200.0Z" fill="#d3e6e6" stroke="#97a5a5" stroke-width="1.3" opacity="1"/><path d="M93.0,188.0 C94.0,186.3 99.5,186.5 101.0,188.0 C102.5,189.5 103.0,195.3 102.0,197.0 C101.0,198.7 96.5,199.5 95.0,198.0 C93.5,196.5 92.0,189.7 93.0,188.0Z" fill="#a3acac" stroke="#757b7b" stroke-width="1.3" opacity="1"/><path d="M133.0,158.0 C135.0,154.5 143.3,153.0 146.0,155.0 C148.7,157.0 148.7,164.5 149.0,170.0 C149.3,175.5 149.7,184.7 148.0,188.0 C146.3,191.3 141.3,192.0 139.0,190.0 C136.7,188.0 135.0,181.3 134.0,176.0 C133.0,170.7 131.0,161.5 133.0,158.0Z" fill="#93d5d9" stroke="#69999c" stroke-width="1.3" opacity="1"/><path d="M137.0,147.0 C138.3,145.3 142.7,143.7 145.0,144.0 C147.3,144.3 150.2,146.8 151.0,149.0 C151.8,151.2 151.5,155.3 150.0,157.0 C148.5,158.7 144.2,159.5 142.0,159.0 C139.8,158.5 137.8,156.0 137.0,154.0 C136.2,152.0 135.7,148.7 137.0,147.0Z" fill="#17a3af" stroke="#10757e" stroke-width="1.3" opacity="1"/><path d="M117.0,157.0 C117.7,155.6 122.7,154.8 125.0,154.5 C127.3,154.2 130.2,153.9 131.0,155.0 C131.8,156.1 131.7,159.7 130.0,161.0 C128.3,162.3 123.2,163.7 121.0,163.0 C118.8,162.3 116.3,158.4 117.0,157.0Z" fill="#2aa9b5" stroke="#1e7982" stroke-width="1.3" opacity="1"/><path d="M88.5,205.0 C89.7,201.5 95.1,201.5 97.0,203.0 C98.9,204.5 99.8,210.3 100.0,214.0 C100.2,217.7 99.7,223.3 98.0,225.0 C96.3,226.7 91.6,227.3 90.0,224.0 C88.4,220.7 87.3,208.5 88.5,205.0Z" fill="#d6a3b8" stroke="#9a7584" stroke-width="1.3" opacity="1"/><path d="M127.0,218.0 C129.3,215.5 137.0,215.3 142.0,216.0 C147.0,216.7 154.3,218.7 157.0,222.0 C159.7,225.3 159.5,232.8 158.0,236.0 C156.5,239.2 151.7,240.7 148.0,241.0 C144.3,241.3 139.3,239.7 136.0,238.0 C132.7,236.3 129.5,234.3 128.0,231.0 C126.5,227.7 124.7,220.5 127.0,218.0Z" fill="#d8e7e7" stroke="#9ba6a6" stroke-width="1.3" opacity="1"/><path d="M143.0,196.0 C144.3,194.0 148.7,191.8 150.0,195.0 C151.3,198.2 151.8,211.2 151.0,215.0 C150.2,218.8 146.5,219.3 145.0,218.0 C143.5,216.7 142.3,210.7 142.0,207.0 C141.7,203.3 141.7,198.0 143.0,196.0Z" fill="#98d6da" stroke="#6d9a9c" stroke-width="1.3" opacity="1"/><path d="M147.0,160.0 C148.5,156.0 154.2,158.0 158.0,158.0 C161.8,158.0 166.8,158.7 170.0,160.0 C173.2,161.3 175.3,162.3 177.0,166.0 C178.7,169.7 180.2,176.7 180.0,182.0 C179.8,187.3 177.0,192.7 176.0,198.0 C175.0,203.3 173.0,209.0 174.0,214.0 C175.0,219.0 182.0,224.7 182.0,228.0 C182.0,231.3 177.7,232.7 174.0,234.0 C170.3,235.3 164.0,236.3 160.0,236.0 C156.0,235.7 151.8,235.0 150.0,232.0 C148.2,229.0 148.8,223.3 149.0,218.0 C149.2,212.7 151.0,206.0 151.0,200.0 C151.0,194.0 149.7,188.7 149.0,182.0 C148.3,175.3 145.5,164.0 147.0,160.0Z" fill="#de8aae" stroke="#9f637d" stroke-width="1.3" opacity="1"/><path d="M150.0,165.0 C151.2,161.2 159.3,161.8 163.0,163.0 C166.7,164.2 171.2,168.2 172.0,172.0 C172.8,175.8 170.7,183.7 168.0,186.0 C165.3,188.3 159.0,189.5 156.0,186.0 C153.0,182.5 148.8,168.8 150.0,165.0Z" fill="#eea6c4" stroke="none" stroke-width="0" opacity="1" filter="url(#s1soft)"/><path d="M151.0,202.0 C153.2,199.0 161.8,201.0 165.0,204.0 C168.2,207.0 170.8,216.0 170.0,220.0 C169.2,224.0 163.0,227.7 160.0,228.0 C157.0,228.3 153.5,226.3 152.0,222.0 C150.5,217.7 148.8,205.0 151.0,202.0Z" fill="#ec9cbd" stroke="none" stroke-width="0" opacity="1" filter="url(#s1soft)"/><path d="M156.0,231.0 C157.0,229.3 165.3,229.2 168.0,230.0 C170.7,230.8 173.0,234.3 172.0,236.0 C171.0,237.7 164.7,240.8 162.0,240.0 C159.3,239.2 155.0,232.7 156.0,231.0Z" fill="#1fa0a9" stroke="#167379" stroke-width="1.3" opacity="1"/><path d="M167.0,135.0 C168.8,132.6 175.2,131.5 179.0,131.5 C182.8,131.5 187.4,132.9 190.0,135.0 C192.6,137.1 193.8,140.7 194.5,144.0 C195.2,147.3 195.4,152.3 194.0,155.0 C192.6,157.7 189.2,159.7 186.0,160.0 C182.8,160.3 178.0,159.3 175.0,157.0 C172.0,154.7 169.3,149.7 168.0,146.0 C166.7,142.3 165.2,137.4 167.0,135.0Z" fill="#eaf0f0" stroke="#a8acac" stroke-width="1.3" opacity="1"/><path d="M174.0,148.0 C175.8,146.3 183.0,145.8 186.0,147.0 C189.0,148.2 192.3,152.8 192.0,155.0 C191.7,157.2 186.8,159.7 184.0,160.0 C181.2,160.3 176.7,159.0 175.0,157.0 C173.3,155.0 172.2,149.7 174.0,148.0Z" fill="#c7d1d1" stroke="none" stroke-width="0" opacity="1" filter="url(#s1soft)"/><path d="M159.0,136.0 C160.0,134.2 165.3,132.8 168.0,133.0 C170.7,133.2 174.3,135.3 175.0,137.0 C175.7,138.7 174.2,141.8 172.0,143.0 C169.8,144.2 164.2,145.2 162.0,144.0 C159.8,142.8 158.0,137.8 159.0,136.0Z" fill="#45b9c4" stroke="#31858d" stroke-width="1.3" opacity="1"/><path d="M180.0,164.0 C182.2,161.8 189.0,160.7 192.0,162.0 C195.0,163.3 197.3,168.0 198.0,172.0 C198.7,176.0 197.5,181.8 196.0,186.0 C194.5,190.2 191.7,195.0 189.0,197.0 C186.3,199.0 182.2,199.7 180.0,198.0 C177.8,196.3 176.2,190.8 176.0,187.0 C175.8,183.2 178.3,178.8 179.0,175.0 C179.7,171.2 177.8,166.2 180.0,164.0Z" fill="#8ad3da" stroke="#63979c" stroke-width="1.3" opacity="1"/><path d="M197.0,163.0 C199.0,159.3 204.8,163.0 208.0,165.0 C211.2,167.0 214.5,170.8 216.0,175.0 C217.5,179.2 217.5,185.2 217.0,190.0 C216.5,194.8 215.5,202.2 213.0,204.0 C210.5,205.8 204.8,203.8 202.0,201.0 C199.2,198.2 196.8,193.3 196.0,187.0 C195.2,180.7 195.0,166.7 197.0,163.0Z" fill="#e7ebeb" stroke="#a6a9a9" stroke-width="1.3" opacity="1"/><path d="M215.0,172.0 C217.2,168.6 224.2,170.3 228.0,169.5 C231.8,168.7 234.5,166.9 238.0,167.0 C241.5,167.1 247.3,168.2 249.0,170.0 C250.7,171.8 247.6,175.0 248.0,178.0 C248.4,181.0 251.2,184.7 251.5,188.0 C251.8,191.3 251.1,195.0 250.0,198.0 C248.9,201.0 247.7,204.7 245.0,206.0 C242.3,207.3 237.8,206.7 234.0,206.0 C230.2,205.3 225.2,204.7 222.0,202.0 C218.8,199.3 216.2,195.0 215.0,190.0 C213.8,185.0 212.8,175.4 215.0,172.0Z" fill="#6cc6cf" stroke="#4d8e95" stroke-width="1.3" opacity="1"/><path d="M236.0,186.0 C238.3,182.7 247.5,182.0 250.0,184.0 C252.5,186.0 251.8,194.3 251.0,198.0 C250.2,201.7 247.5,205.0 245.0,206.0 C242.5,207.0 237.5,207.3 236.0,204.0 C234.5,200.7 233.7,189.3 236.0,186.0Z" fill="#16a1b0" stroke="#0f737e" stroke-width="1.3" opacity="1"/><path d="M236.0,165.0 C236.8,162.9 241.8,163.0 244.0,163.5 C246.2,164.0 248.5,165.8 249.0,168.0 C249.5,170.2 248.7,175.7 247.0,177.0 C245.3,178.3 240.8,178.0 239.0,176.0 C237.2,174.0 235.2,167.1 236.0,165.0Z" fill="#eef0f0" stroke="#abacac" stroke-width="1.3" opacity="1"/><path d="M168.0,184.0 C170.0,180.7 179.0,182.7 182.0,186.0 C185.0,189.3 185.0,197.7 186.0,204.0 C187.0,210.3 189.3,219.3 188.0,224.0 C186.7,228.7 181.3,231.7 178.0,232.0 C174.7,232.3 169.3,230.3 168.0,226.0 C166.7,221.7 170.0,213.0 170.0,206.0 C170.0,199.0 166.0,187.3 168.0,184.0Z" fill="#e39ab8" stroke="#a36e84" stroke-width="1.3" opacity="1"/><path d="M180.0,191.0 C182.8,188.7 189.2,188.5 193.0,189.0 C196.8,189.5 199.8,192.5 203.0,194.0 C206.2,195.5 209.2,196.3 212.0,198.0 C214.8,199.7 218.5,201.3 220.0,204.0 C221.5,206.7 221.3,210.8 221.0,214.0 C220.7,217.2 220.0,220.8 218.0,223.0 C216.0,225.2 212.7,226.5 209.0,227.0 C205.3,227.5 199.8,226.8 196.0,226.0 C192.2,225.2 188.8,223.8 186.0,222.0 C183.2,220.2 180.7,218.2 179.0,215.0 C177.3,211.8 175.8,207.0 176.0,203.0 C176.2,199.0 177.2,193.3 180.0,191.0Z" fill="#961656" stroke="#6c0f3d" stroke-width="1.3" opacity="1"/><path d="M184.0,197.0 C185.8,194.3 193.2,195.3 196.0,197.0 C198.8,198.7 201.2,203.7 201.0,207.0 C200.8,210.3 197.7,216.0 195.0,217.0 C192.3,218.0 186.8,216.3 185.0,213.0 C183.2,209.7 182.2,199.7 184.0,197.0Z" fill="#7e0e46" stroke="none" stroke-width="0" opacity="1" filter="url(#s1soft)"/><path d="M203.0,212.0 C204.0,210.5 210.2,211.7 212.0,213.0 C213.8,214.3 215.0,218.5 214.0,220.0 C213.0,221.5 207.8,223.3 206.0,222.0 C204.2,220.7 202.0,213.5 203.0,212.0Z" fill="#b02a6a" stroke="none" stroke-width="0" opacity="1" filter="url(#s1soft)"/><path d="M219.0,210.0 C221.7,207.5 227.0,206.5 230.0,207.0 C233.0,207.5 235.8,209.8 237.0,213.0 C238.2,216.2 238.2,222.5 237.0,226.0 C235.8,229.5 233.3,232.2 230.0,234.0 C226.7,235.8 220.2,237.5 217.0,237.0 C213.8,236.5 211.5,233.5 211.0,231.0 C210.5,228.5 212.7,225.5 214.0,222.0 C215.3,218.5 216.3,212.5 219.0,210.0Z" fill="#e8e3e5" stroke="#a7a3a4" stroke-width="1.3" opacity="1"/><path d="M219.0,200.0 C220.0,197.8 225.3,197.5 227.0,199.0 C228.7,200.5 230.0,206.8 229.0,209.0 C228.0,211.2 222.7,213.5 221.0,212.0 C219.3,210.5 218.0,202.2 219.0,200.0Z" fill="#e5b3c7" stroke="#a4808f" stroke-width="1.3" opacity="1"/><path d="M178.0,229.0 C180.3,227.3 187.7,227.7 192.0,228.0 C196.3,228.3 202.2,229.0 204.0,231.0 C205.8,233.0 205.3,238.2 203.0,240.0 C200.7,241.8 194.2,242.3 190.0,242.0 C185.8,241.7 180.0,240.2 178.0,238.0 C176.0,235.8 175.7,230.7 178.0,229.0Z" fill="#17a0a8" stroke="#107378" stroke-width="1.3" opacity="1"/><path d="M204.0,232.0 C205.5,230.5 213.7,230.0 216.0,231.0 C218.3,232.0 219.5,236.5 218.0,238.0 C216.5,239.5 209.3,241.0 207.0,240.0 C204.7,239.0 202.5,233.5 204.0,232.0Z" fill="#bdb4b8" stroke="#888184" stroke-width="1.3" opacity="1"/><ellipse cx="100" cy="182" rx="6" ry="3" fill="#ffffff" opacity="0.7" filter="url(#s1soft)"/><ellipse cx="128" cy="172" rx="5" ry="3" fill="#ffffff" opacity="0.7" filter="url(#s1soft)"/><ellipse cx="130" cy="196" rx="4" ry="5" fill="#ffffff" opacity="0.6" filter="url(#s1soft)"/><ellipse cx="113" cy="206" rx="4" ry="3" fill="#ffffff" opacity="0.5" filter="url(#s1soft)"/><ellipse cx="182" cy="140" rx="6" ry="3" fill="#ffffff" opacity="0.8" filter="url(#s1soft)"/><ellipse cx="205" cy="182" rx="4" ry="7" fill="#ffffff" opacity="0.6" filter="url(#s1soft)"/><ellipse cx="225" cy="222" rx="5" ry="4" fill="#ffffff" opacity="0.6" filter="url(#s1soft)"/><ellipse cx="140" cy="228" rx="6" ry="3" fill="#ffffff" opacity="0.5" filter="url(#s1soft)"/><ellipse cx="158" cy="175" rx="4" ry="3" fill="#ffffff" opacity="0.35" filter="url(#s1soft)"/><ellipse cx="165" cy="215" rx="4" ry="3" fill="#ffffff" opacity="0.3" filter="url(#s1soft)"/><ellipse cx="187" cy="178" rx="3" ry="5" fill="#ffffff" opacity="0.4" filter="url(#s1soft)"/><ellipse cx="243" cy="170" rx="3" ry="2" fill="#ffffff" opacity="0.7" filter="url(#s1soft)"/><ellipse cx="233" cy="188" rx="4" ry="3" fill="#ffffff" opacity="0.35" filter="url(#s1soft)"/><path d="M104.0,174.0 C105.0,175.8 108.0,180.7 110.0,185.0 C112.0,189.3 115.7,195.2 116.0,200.0 C116.3,204.8 112.7,211.7 112.0,214.0" fill="none" stroke="#6d7c7c" stroke-width="1.2" opacity="0.45"/><path d="M121.0,186.0 C123.2,185.7 130.8,183.3 134.0,184.0 C137.2,184.7 139.0,189.0 140.0,190.0" fill="none" stroke="#6d7c7c" stroke-width="1.2" opacity="0.45"/><path d="M150.0,150.0 C149.7,151.7 149.7,156.7 148.0,160.0 C146.3,163.3 141.3,168.3 140.0,170.0" fill="none" stroke="#6d7c7c" stroke-width="1.2" opacity="0.45"/><path d="M174.0,157.0 C175.5,157.8 179.7,161.8 183.0,162.0 C186.3,162.2 192.2,158.7 194.0,158.0" fill="none" stroke="#6d7c7c" stroke-width="1.2" opacity="0.45"/><path d="M196.0,186.0 C195.0,188.0 192.0,195.0 190.0,198.0 C188.0,201.0 185.0,203.0 184.0,204.0" fill="none" stroke="#6d7c7c" stroke-width="1.2" opacity="0.45"/><path d="M214.0,190.0 C215.3,192.0 219.0,199.3 222.0,202.0 C225.0,204.7 230.3,205.3 232.0,206.0" fill="none" stroke="#6d7c7c" stroke-width="1.2" opacity="0.45"/><path d="M210.0,218.0 C208.3,219.3 203.3,224.3 200.0,226.0 C196.7,227.7 191.7,227.7 190.0,228.0" fill="none" stroke="#6d7c7c" stroke-width="1.2" opacity="0.45"/><path d="M135.0,214.0 C136.3,214.8 140.5,218.3 143.0,219.0 C145.5,219.7 148.8,218.2 150.0,218.0" fill="none" stroke="#6d7c7c" stroke-width="1.2" opacity="0.45"/><path d="M95.0,190.0 C95.8,191.0 99.2,195.0 100.0,196.0" fill="none" stroke="#6d7c7c" stroke-width="1.2" opacity="0.45"/><path d="M165.0,232.0 C166.7,231.3 172.2,228.0 175.0,228.0 C177.8,228.0 180.8,231.3 182.0,232.0" fill="none" stroke="#6d7c7c" stroke-width="1.2" opacity="0.45"/></g>
<g filter="url(#s2blur)"><line x1="106" y1="533" x2="112" y2="537" stroke="#dc8a3a" stroke-width="2.2" stroke-linecap="round"/><line x1="115" y1="545" x2="125" y2="541" stroke="#dc8a3a" stroke-width="2.2" stroke-linecap="round"/><line x1="120" y1="552" x2="132" y2="549" stroke="#dc8a3a" stroke-width="2.2" stroke-linecap="round"/><line x1="128" y1="550" x2="140" y2="555" stroke="#dc8a3a" stroke-width="2.2" stroke-linecap="round"/><line x1="134" y1="540" x2="140" y2="549" stroke="#dc8a3a" stroke-width="2.2" stroke-linecap="round"/><line x1="142" y1="548" x2="146" y2="560" stroke="#dc8a3a" stroke-width="2.2" stroke-linecap="round"/><line x1="150" y1="536" x2="158" y2="548" stroke="#dc8a3a" stroke-width="2.2" stroke-linecap="round"/><line x1="156" y1="556" x2="160" y2="566" stroke="#dc8a3a" stroke-width="2.2" stroke-linecap="round"/><line x1="166" y1="521" x2="176" y2="530" stroke="#dc8a3a" stroke-width="2.2" stroke-linecap="round"/><line x1="180" y1="545" x2="190" y2="540" stroke="#dc8a3a" stroke-width="2.2" stroke-linecap="round"/><line x1="177" y1="553" x2="186" y2="556" stroke="#dc8a3a" stroke-width="2.2" stroke-linecap="round"/><line x1="190" y1="558" x2="198" y2="548" stroke="#dc8a3a" stroke-width="2.2" stroke-linecap="round"/><line x1="196" y1="542" x2="205" y2="538" stroke="#dc8a3a" stroke-width="2.2" stroke-linecap="round"/><line x1="192" y1="515" x2="203" y2="521" stroke="#dc8a3a" stroke-width="2.2" stroke-linecap="round"/><line x1="198" y1="520" x2="205" y2="530" stroke="#dc8a3a" stroke-width="2.2" stroke-linecap="round"/><line x1="207" y1="551" x2="215" y2="548" stroke="#dc8a3a" stroke-width="2.2" stroke-linecap="round"/><line x1="212" y1="540" x2="220" y2="538" stroke="#dc8a3a" stroke-width="2.2" stroke-linecap="round"/><line x1="216" y1="555" x2="224" y2="560" stroke="#dc8a3a" stroke-width="2.2" stroke-linecap="round"/><line x1="228" y1="548" x2="231" y2="556" stroke="#dc8a3a" stroke-width="2.2" stroke-linecap="round"/><path d="M118.9,565.4 C121.0,564.5 127.9,562.4 131.3,560.2 C134.7,558.0 136.4,557.2 139.5,552.0 C142.6,546.8 147.2,535.5 149.9,529.2 C152.7,522.9 155.0,516.5 156.0,514.0" fill="none" stroke="#e79a48" stroke-width="2.4" stroke-linecap="round" opacity="1"/><path d="M211.8,498.3 C212.5,502.1 215.0,513.8 216.0,521.0 C217.0,528.2 217.5,537.1 218.0,541.6 C218.5,546.1 218.8,546.9 219.0,548.0" fill="none" stroke="#d57a22" stroke-width="2.6" stroke-linecap="round" opacity="1"/><path d="M211.8,498.3 C212.2,500.2 212.8,503.9 214.0,510.0 C215.2,516.1 218.2,530.8 219.0,535.0" fill="none" stroke="#e79a48" stroke-width="2.0" stroke-linecap="round" opacity="1"/><path d="M100.3,531.3 C101.3,534.0 103.0,543.0 106.5,547.8 C110.0,552.6 115.2,557.1 121.0,560.2 C126.8,563.3 135.8,565.2 141.6,566.4 C147.4,567.6 151.5,568.4 156.0,567.4 C160.5,566.4 163.9,564.2 168.4,560.2 C172.9,556.2 178.8,549.2 182.9,543.7 C187.0,538.2 189.4,532.4 193.2,527.2 C197.0,522.0 202.5,517.5 205.6,512.7 C208.7,507.9 210.8,500.7 211.8,498.3" fill="none" stroke="#e58b2e" stroke-width="3.2" stroke-linecap="round" opacity="1"/><path d="M164.3,518.9 C165.0,522.3 166.3,533.3 168.4,539.5 C170.5,545.7 172.6,551.3 176.7,556.1 C180.8,560.9 187.7,565.8 193.2,568.4 C198.7,571.0 204.2,572.2 209.7,571.5 C215.2,570.8 221.5,567.6 226.3,564.3 C231.1,561.0 236.6,554.0 238.6,551.9" fill="none" stroke="#e58b2e" stroke-width="3.2" stroke-linecap="round" opacity="1"/><path d="M124.0,438.0 C124.7,437.0 125.3,433.2 128.0,432.0 C130.7,430.8 136.3,430.1 140.0,430.8 C143.7,431.5 147.6,434.2 150.0,436.0 C152.4,437.8 152.9,441.0 154.6,441.7 C156.3,442.4 158.1,441.3 160.0,440.0 C161.9,438.7 164.3,434.7 166.0,434.0 C167.7,433.3 169.3,435.7 170.0,436.0" fill="none" stroke="#c88fd2" stroke-width="1.5" stroke-linecap="round"/><path d="M122.0,440.0 C122.7,442.0 124.0,449.3 126.0,452.0 C128.0,454.7 130.8,456.0 134.0,456.0 C137.2,456.0 141.5,453.7 145.0,452.0 C148.5,450.3 151.7,448.3 155.0,446.0 C158.3,443.7 163.3,439.3 165.0,438.0" fill="none" stroke="#b9c048" stroke-width="1.3" stroke-linecap="round"/><path d="M150.0,455.0 C151.7,455.5 156.7,458.5 160.0,458.0 C163.3,457.5 167.0,451.3 170.0,452.0 C173.0,452.7 175.0,458.7 178.0,462.0 C181.0,465.3 185.0,468.7 188.0,472.0 C191.0,475.3 195.0,478.7 196.0,482.0 C197.0,485.3 194.3,490.3 194.0,492.0" fill="none" stroke="#c4aacb" stroke-width="1.3" stroke-linecap="round"/><path d="M152.0,448.0 C153.7,448.7 158.7,452.3 162.0,452.0 C165.3,451.7 168.7,445.2 172.0,446.0 C175.3,446.8 178.7,453.7 182.0,457.0 C185.3,460.3 189.3,462.2 192.0,466.0 C194.7,469.8 197.0,477.7 198.0,480.0" fill="none" stroke="#b8c850" stroke-width="1.2" stroke-linecap="round"/><path d="M108.0,462.0 C110.0,463.3 116.0,469.5 120.0,470.0 C124.0,470.5 128.7,466.3 132.0,465.0 C135.3,463.7 138.7,462.5 140.0,462.0" fill="none" stroke="#b8c040" stroke-width="1.2" stroke-linecap="round"/><path d="M166.0,436.0 C166.3,435.2 167.2,431.3 168.0,431.0 C168.8,430.7 170.5,433.5 171.0,434.0" fill="none" stroke="#6a3a6a" stroke-width="2.2" stroke-linecap="round"/><path d="M166.8,449.1 L167.5,449.4 L168.3,449.4 L169.2,449.2 L170.3,448.8 L171.5,448.2 L172.8,447.5 L174.2,446.8 L175.5,445.9 L176.9,445.1 L178.3,444.4 L179.6,443.7 L180.7,443.2 L181.8,442.8 L182.7,442.7 L183.5,442.7 L184.0,443.0" fill="none" stroke="#9a9e28" stroke-width="7.1" stroke-linecap="round" stroke-linejoin="round"/><path d="M166.8,449.1 L167.5,449.4 L168.3,449.4 L169.2,449.2 L170.3,448.8 L171.5,448.2 L172.8,447.5 L174.2,446.8 L175.5,445.9 L176.9,445.1 L178.3,444.4 L179.6,443.7 L180.7,443.2 L181.8,442.8 L182.7,442.7 L183.5,442.7 L184.0,443.0" fill="none" stroke="#b4bb2a" stroke-width="6" stroke-linecap="round" stroke-linejoin="round"/><path d="M183.7,461.3 L184.4,461.5 L185.2,461.4 L186.2,461.2 L187.3,460.7 L188.6,460.1 L189.9,459.4 L191.2,458.6 L192.6,457.8 L194.0,457.0 L195.4,456.2 L196.6,455.6 L197.8,455.1 L198.8,454.8 L199.7,454.7 L200.4,454.8 L200.9,455.2" fill="none" stroke="#9a9e28" stroke-width="7.1" stroke-linecap="round" stroke-linejoin="round"/><path d="M183.7,461.3 L184.4,461.5 L185.2,461.4 L186.2,461.2 L187.3,460.7 L188.6,460.1 L189.9,459.4 L191.2,458.6 L192.6,457.8 L194.0,457.0 L195.4,456.2 L196.6,455.6 L197.8,455.1 L198.8,454.8 L199.7,454.7 L200.4,454.8 L200.9,455.2" fill="none" stroke="#b4bb2a" stroke-width="6" stroke-linecap="round" stroke-linejoin="round"/><path d="M200.6,473.4 L201.3,473.5 L202.2,473.4 L203.2,473.1 L204.4,472.7 L205.6,472.0 L207.0,471.3 L208.3,470.5 L209.7,469.7 L211.1,468.9 L212.4,468.1 L213.7,467.5 L214.8,467.1 L215.8,466.8 L216.6,466.8 L217.3,467.0 L217.8,467.4" fill="none" stroke="#9a9e28" stroke-width="7.1" stroke-linecap="round" stroke-linejoin="round"/><path d="M200.6,473.4 L201.3,473.5 L202.2,473.4 L203.2,473.1 L204.4,472.7 L205.6,472.0 L207.0,471.3 L208.3,470.5 L209.7,469.7 L211.1,468.9 L212.4,468.1 L213.7,467.5 L214.8,467.1 L215.8,466.8 L216.6,466.8 L217.3,467.0 L217.8,467.4" fill="none" stroke="#b4bb2a" stroke-width="6" stroke-linecap="round" stroke-linejoin="round"/><path d="M217.6,485.5 L218.3,485.6 L219.2,485.4 L220.3,485.1 L221.4,484.6" fill="none" stroke="#9a9e28" stroke-width="7.1" stroke-linecap="round" stroke-linejoin="round"/><path d="M217.6,485.5 L218.3,485.6 L219.2,485.4 L220.3,485.1 L221.4,484.6" fill="none" stroke="#b4bb2a" stroke-width="6" stroke-linecap="round" stroke-linejoin="round"/><path d="M167.0,440.0 L166.7,441.6 L166.4,443.1 L166.1,444.5 L166.0,445.8 L166.0,447.0 L166.1,447.9 L166.4,448.6 L166.8,449.1" fill="none" stroke="#9a9e28" stroke-width="7.1" stroke-linecap="round" stroke-linejoin="round"/><path d="M167.0,440.0 L166.7,441.6 L166.4,443.1 L166.1,444.5 L166.0,445.8 L166.0,447.0 L166.1,447.9 L166.4,448.6 L166.8,449.1" fill="none" stroke="#dfe640" stroke-width="6" stroke-linecap="round" stroke-linejoin="round"/><path d="M184.0,443.0 L184.5,443.6 L184.7,444.3 L184.8,445.3 L184.7,446.5 L184.6,447.8 L184.3,449.3 L184.0,450.9 L183.7,452.4 L183.4,454.0 L183.1,455.5 L182.9,456.9 L182.7,458.2 L182.8,459.3 L182.9,460.2 L183.2,460.8 L183.7,461.3" fill="none" stroke="#9a9e28" stroke-width="7.1" stroke-linecap="round" stroke-linejoin="round"/><path d="M184.0,443.0 L184.5,443.6 L184.7,444.3 L184.8,445.3 L184.7,446.5 L184.6,447.8 L184.3,449.3 L184.0,450.9 L183.7,452.4 L183.4,454.0 L183.1,455.5 L182.9,456.9 L182.7,458.2 L182.8,459.3 L182.9,460.2 L183.2,460.8 L183.7,461.3" fill="none" stroke="#dfe640" stroke-width="6" stroke-linecap="round" stroke-linejoin="round"/><path d="M200.9,455.2 L201.3,455.8 L201.5,456.6 L201.6,457.6 L201.5,458.9 L201.3,460.2 L201.0,461.7 L200.7,463.3 L200.4,464.9 L200.0,466.4 L199.8,467.9 L199.6,469.3 L199.5,470.5 L199.5,471.6 L199.7,472.4 L200.1,473.0 L200.6,473.4" fill="none" stroke="#9a9e28" stroke-width="7.1" stroke-linecap="round" stroke-linejoin="round"/><path d="M200.9,455.2 L201.3,455.8 L201.5,456.6 L201.6,457.6 L201.5,458.9 L201.3,460.2 L201.0,461.7 L200.7,463.3 L200.4,464.9 L200.0,466.4 L199.8,467.9 L199.6,469.3 L199.5,470.5 L199.5,471.6 L199.7,472.4 L200.1,473.0 L200.6,473.4" fill="none" stroke="#dfe640" stroke-width="6" stroke-linecap="round" stroke-linejoin="round"/><path d="M217.8,467.4 L218.1,468.0 L218.3,468.9 L218.3,470.0 L218.2,471.2 L218.0,472.6 L217.7,474.1 L217.4,475.7 L217.1,477.3 L216.7,478.8 L216.5,480.3 L216.3,481.7 L216.3,482.8 L216.3,483.8 L216.6,484.6 L217.0,485.2 L217.6,485.5" fill="none" stroke="#9a9e28" stroke-width="7.1" stroke-linecap="round" stroke-linejoin="round"/><path d="M217.8,467.4 L218.1,468.0 L218.3,468.9 L218.3,470.0 L218.2,471.2 L218.0,472.6 L217.7,474.1 L217.4,475.7 L217.1,477.3 L216.7,478.8 L216.5,480.3 L216.3,481.7 L216.3,482.8 L216.3,483.8 L216.6,484.6 L217.0,485.2 L217.6,485.5" fill="none" stroke="#dfe640" stroke-width="6" stroke-linecap="round" stroke-linejoin="round"/><path d="M146.9,456.5 L147.4,456.6 L147.9,456.6 L148.4,456.5 L149.0,456.3 L149.7,456.1 L150.3,455.8 L151.0,455.5 L151.7,455.2 L152.3,454.9 L153.0,454.7 L153.6,454.5 L154.1,454.4 L154.6,454.4 L155.1,454.5 L155.5,454.7 L155.9,454.9" fill="none" stroke="#6e7020" stroke-width="5.1" stroke-linecap="round" stroke-linejoin="round"/><path d="M146.9,456.5 L147.4,456.6 L147.9,456.6 L148.4,456.5 L149.0,456.3 L149.7,456.1 L150.3,455.8 L151.0,455.5 L151.7,455.2 L152.3,454.9 L153.0,454.7 L153.6,454.5 L154.1,454.4 L154.6,454.4 L155.1,454.5 L155.5,454.7 L155.9,454.9" fill="none" stroke="#8e9228" stroke-width="4" stroke-linecap="round" stroke-linejoin="round"/><path d="M145.0,452.0 L145.1,452.7 L145.2,453.4 L145.3,454.1 L145.4,454.7 L145.6,455.2 L145.9,455.7 L146.1,456.1 L146.5,456.3 L146.9,456.5" fill="none" stroke="#6e7020" stroke-width="5.1" stroke-linecap="round" stroke-linejoin="round"/><path d="M145.0,452.0 L145.1,452.7 L145.2,453.4 L145.3,454.1 L145.4,454.7 L145.6,455.2 L145.9,455.7 L146.1,456.1 L146.5,456.3 L146.9,456.5" fill="none" stroke="#b4b83c" stroke-width="4" stroke-linecap="round" stroke-linejoin="round"/><path d="M155.9,454.9 L156.1,455.3 L156.4,455.8 L156.6,456.3 L156.7,456.9 L156.8,457.6 L156.9,458.3 L157.0,459.0" fill="none" stroke="#6e7020" stroke-width="5.1" stroke-linecap="round" stroke-linejoin="round"/><path d="M155.9,454.9 L156.1,455.3 L156.4,455.8 L156.6,456.3 L156.7,456.9 L156.8,457.6 L156.9,458.3 L157.0,459.0" fill="none" stroke="#b4b83c" stroke-width="4" stroke-linecap="round" stroke-linejoin="round"/><path d="M100.1,438.8 L100.8,439.1 L101.6,439.2 L102.7,439.1 L104.0,439.0 L105.3,438.8 L106.8,438.5 L108.3,438.2 L109.9,437.9 L111.3,437.6 L112.7,437.4 L114.0,437.2 L115.0,437.2 L115.9,437.3 L116.5,437.5 L116.9,437.9 L117.1,438.4" fill="none" stroke="#8a8436" stroke-width="7.6" stroke-linecap="round" stroke-linejoin="round"/><path d="M100.1,438.8 L100.8,439.1 L101.6,439.2 L102.7,439.1 L104.0,439.0 L105.3,438.8 L106.8,438.5 L108.3,438.2 L109.9,437.9 L111.3,437.6 L112.7,437.4 L114.0,437.2 L115.0,437.2 L115.9,437.3 L116.5,437.5 L116.9,437.9 L117.1,438.4" fill="none" stroke="#b86cc4" stroke-width="6.5" stroke-linecap="round" stroke-linejoin="round"/><path d="M108.8,453.2 L109.4,453.4 L110.3,453.5 L111.4,453.5 L112.6,453.3 L114.0,453.1 L115.5,452.8 L117.0,452.5 L118.5,452.2 L120.0,451.9 L121.4,451.7 L122.6,451.5 L123.7,451.5 L124.6,451.6 L125.2,451.8 L125.6,452.2 L125.7,452.7" fill="none" stroke="#8a8436" stroke-width="7.6" stroke-linecap="round" stroke-linejoin="round"/><path d="M108.8,453.2 L109.4,453.4 L110.3,453.5 L111.4,453.5 L112.6,453.3 L114.0,453.1 L115.5,452.8 L117.0,452.5 L118.5,452.2 L120.0,451.9 L121.4,451.7 L122.6,451.5 L123.7,451.5 L124.6,451.6 L125.2,451.8 L125.6,452.2 L125.7,452.7" fill="none" stroke="#b86cc4" stroke-width="6.5" stroke-linecap="round" stroke-linejoin="round"/><path d="M117.5,467.5 L118.1,467.7 L119.0,467.8 L120.0,467.8 L121.3,467.6 L122.7,467.4 L124.1,467.1 L125.7,466.8 L127.2,466.5 L128.7,466.2 L130.0,466.0 L131.3,465.9 L132.4,465.8 L133.2,465.9 L133.9,466.2 L134.3,466.5 L134.4,467.1" fill="none" stroke="#8a8436" stroke-width="7.6" stroke-linecap="round" stroke-linejoin="round"/><path d="M117.5,467.5 L118.1,467.7 L119.0,467.8 L120.0,467.8 L121.3,467.6 L122.7,467.4 L124.1,467.1 L125.7,466.8 L127.2,466.5 L128.7,466.2 L130.0,466.0 L131.3,465.9 L132.4,465.8 L133.2,465.9 L133.9,466.2 L134.3,466.5 L134.4,467.1" fill="none" stroke="#b86cc4" stroke-width="6.5" stroke-linecap="round" stroke-linejoin="round"/><path d="M104.0,431.0 L103.0,432.2 L102.1,433.4 L101.2,434.5 L100.5,435.5 L100.0,436.5 L99.7,437.3 L99.6,437.9 L99.7,438.5 L100.1,438.8" fill="none" stroke="#8a8436" stroke-width="7.6" stroke-linecap="round" stroke-linejoin="round"/><path d="M104.0,431.0 L103.0,432.2 L102.1,433.4 L101.2,434.5 L100.5,435.5 L100.0,436.5 L99.7,437.3 L99.6,437.9 L99.7,438.5 L100.1,438.8" fill="none" stroke="#dde33e" stroke-width="6.5" stroke-linecap="round" stroke-linejoin="round"/><path d="M117.1,438.4 L117.0,439.1 L116.6,439.9 L116.1,440.8 L115.4,441.8 L114.6,443.0 L113.6,444.1 L112.7,445.3 L111.7,446.5 L110.8,447.7 L109.9,448.8 L109.2,449.9 L108.7,450.8 L108.4,451.6 L108.3,452.3 L108.4,452.8 L108.8,453.2" fill="none" stroke="#8a8436" stroke-width="7.6" stroke-linecap="round" stroke-linejoin="round"/><path d="M117.1,438.4 L117.0,439.1 L116.6,439.9 L116.1,440.8 L115.4,441.8 L114.6,443.0 L113.6,444.1 L112.7,445.3 L111.7,446.5 L110.8,447.7 L109.9,448.8 L109.2,449.9 L108.7,450.8 L108.4,451.6 L108.3,452.3 L108.4,452.8 L108.8,453.2" fill="none" stroke="#c27ad0" stroke-width="6.5" stroke-linecap="round" stroke-linejoin="round"/><path d="M125.7,452.7 L125.6,453.4 L125.3,454.2 L124.8,455.1 L124.1,456.2 L123.2,457.3 L122.3,458.5 L121.3,459.7 L120.4,460.9 L119.4,462.0 L118.6,463.2 L117.9,464.2 L117.4,465.1 L117.0,465.9 L116.9,466.6 L117.1,467.1 L117.5,467.5" fill="none" stroke="#8a8436" stroke-width="7.6" stroke-linecap="round" stroke-linejoin="round"/><path d="M125.7,452.7 L125.6,453.4 L125.3,454.2 L124.8,455.1 L124.1,456.2 L123.2,457.3 L122.3,458.5 L121.3,459.7 L120.4,460.9 L119.4,462.0 L118.6,463.2 L117.9,464.2 L117.4,465.1 L117.0,465.9 L116.9,466.6 L117.1,467.1 L117.5,467.5" fill="none" stroke="#dde33e" stroke-width="6.5" stroke-linecap="round" stroke-linejoin="round"/><path d="M134.4,467.1 L134.3,467.7 L134.0,468.5 L133.5,469.5 L132.8,470.5 L131.9,471.6 L131.0,472.8 L130.0,474.0" fill="none" stroke="#8a8436" stroke-width="7.6" stroke-linecap="round" stroke-linejoin="round"/><path d="M134.4,467.1 L134.3,467.7 L134.0,468.5 L133.5,469.5 L132.8,470.5 L131.9,471.6 L131.0,472.8 L130.0,474.0" fill="none" stroke="#c27ad0" stroke-width="6.5" stroke-linecap="round" stroke-linejoin="round"/><path d="M171.4,474.6 L171.6,475.0 L172.2,475.5 L173.1,475.9 L174.3,476.2 L175.7,476.6 L177.3,476.9 L179.0,477.2 L180.8,477.5 L182.6,477.8 L184.4,478.2 L186.0,478.5 L187.3,478.8 L188.5,479.2 L189.3,479.6 L189.8,480.0 L190.0,480.5" fill="none" stroke="#66603a" stroke-width="7.1" stroke-linecap="round" stroke-linejoin="round"/><path d="M171.4,474.6 L171.6,475.0 L172.2,475.5 L173.1,475.9 L174.3,476.2 L175.7,476.6 L177.3,476.9 L179.0,477.2 L180.8,477.5 L182.6,477.8 L184.4,478.2 L186.0,478.5 L187.3,478.8 L188.5,479.2 L189.3,479.6 L189.8,480.0 L190.0,480.5" fill="none" stroke="#b064c0" stroke-width="6" stroke-linecap="round" stroke-linejoin="round"/><path d="M172.8,489.7 L173.1,490.1 L173.7,490.5 L174.6,490.9 L175.9,491.3 L177.3,491.6 L179.0,492.0 L180.7,492.3 L182.5,492.6 L184.3,492.9 L186.0,493.2 L187.6,493.6 L188.9,493.9 L190.0,494.3 L190.8,494.7 L191.2,495.1 L191.3,495.6" fill="none" stroke="#66603a" stroke-width="7.1" stroke-linecap="round" stroke-linejoin="round"/><path d="M172.8,489.7 L173.1,490.1 L173.7,490.5 L174.6,490.9 L175.9,491.3 L177.3,491.6 L179.0,492.0 L180.7,492.3 L182.5,492.6 L184.3,492.9 L186.0,493.2 L187.6,493.6 L188.9,493.9 L190.0,494.3 L190.8,494.7 L191.2,495.1 L191.3,495.6" fill="none" stroke="#b064c0" stroke-width="6" stroke-linecap="round" stroke-linejoin="round"/><path d="M180.0,470.0 L178.3,470.6 L176.6,471.3 L175.1,471.9 L173.8,472.5 L172.7,473.0 L172.0,473.6 L171.5,474.1 L171.4,474.6" fill="none" stroke="#66603a" stroke-width="7.1" stroke-linecap="round" stroke-linejoin="round"/><path d="M180.0,470.0 L178.3,470.6 L176.6,471.3 L175.1,471.9 L173.8,472.5 L172.7,473.0 L172.0,473.6 L171.5,474.1 L171.4,474.6" fill="none" stroke="#a4b040" stroke-width="6" stroke-linecap="round" stroke-linejoin="round"/><path d="M190.0,480.5 L189.8,481.0 L189.3,481.5 L188.5,482.1 L187.3,482.6 L186.0,483.2 L184.4,483.9 L182.8,484.5 L181.0,485.1 L179.3,485.7 L177.7,486.4 L176.2,487.0 L175.0,487.6 L173.9,488.1 L173.2,488.7 L172.8,489.2 L172.8,489.7" fill="none" stroke="#66603a" stroke-width="7.1" stroke-linecap="round" stroke-linejoin="round"/><path d="M190.0,480.5 L189.8,481.0 L189.3,481.5 L188.5,482.1 L187.3,482.6 L186.0,483.2 L184.4,483.9 L182.8,484.5 L181.0,485.1 L179.3,485.7 L177.7,486.4 L176.2,487.0 L175.0,487.6 L173.9,488.1 L173.2,488.7 L172.8,489.2 L172.8,489.7" fill="none" stroke="#b46cc6" stroke-width="6" stroke-linecap="round" stroke-linejoin="round"/><path d="M191.3,495.6 L191.1,496.1 L190.5,496.6 L189.6,497.2 L188.5,497.7 L187.1,498.4 L185.5,499.0 L183.8,499.6 L182.1,500.2 L180.4,500.9 L178.8,501.5 L177.3,502.1 L176.1,502.7 L175.1,503.2 L174.5,503.8" fill="none" stroke="#66603a" stroke-width="7.1" stroke-linecap="round" stroke-linejoin="round"/><path d="M191.3,495.6 L191.1,496.1 L190.5,496.6 L189.6,497.2 L188.5,497.7 L187.1,498.4 L185.5,499.0 L183.8,499.6 L182.1,500.2 L180.4,500.9 L178.8,501.5 L177.3,502.1 L176.1,502.7 L175.1,503.2 L174.5,503.8" fill="none" stroke="#a4b040" stroke-width="6" stroke-linecap="round" stroke-linejoin="round"/><circle cx="82.7" cy="449.4" r="5.4" fill="url(#gG)"/><circle cx="88.0" cy="449.5" r="5.4" fill="url(#gG)"/><circle cx="103.3" cy="448.3" r="5.1" fill="url(#gG)"/><circle cx="96.2" cy="450.9" r="5.6" fill="url(#gG)"/><circle cx="85.4" cy="454.9" r="4.7" fill="url(#gG)"/><circle cx="79.2" cy="455.9" r="4.7" fill="url(#gG)"/><circle cx="100.0" cy="455.4" r="5.0" fill="url(#gG)"/><circle cx="93.0" cy="456.2" r="4.7" fill="url(#gG)"/><circle cx="107.8" cy="454.9" r="5.5" fill="url(#gG)"/><circle cx="82.0" cy="463.2" r="4.7" fill="url(#gG)"/><circle cx="90.8" cy="463.8" r="4.6" fill="url(#gG)"/><circle cx="96.5" cy="463.5" r="5.3" fill="url(#gG)"/><circle cx="105.8" cy="462.6" r="5.5" fill="url(#gG)"/><circle cx="93.2" cy="469.7" r="4.5" fill="url(#gG)"/><circle cx="85.8" cy="470.5" r="5.5" fill="url(#gG)"/><circle cx="100.1" cy="470.3" r="5.0" fill="url(#gG)"/><circle cx="107.5" cy="469.6" r="5.3" fill="url(#gG)"/><circle cx="89.2" cy="476.1" r="5.4" fill="url(#gG)"/><circle cx="103.3" cy="474.8" r="5.3" fill="url(#gG)"/><circle cx="97.1" cy="475.8" r="5.1" fill="url(#gG)"/><circle cx="77.2" cy="471.9" r="5.0" fill="url(#gG)"/><circle cx="84.4" cy="472.7" r="4.4" fill="url(#gG)"/><circle cx="86.5" cy="477.6" r="4.8" fill="url(#gG)"/><circle cx="80.5" cy="478.7" r="4.6" fill="url(#gG)"/><circle cx="73.6" cy="480.3" r="5.4" fill="url(#gG)"/><circle cx="76.2" cy="485.0" r="5.4" fill="url(#gG)"/><circle cx="90.2" cy="484.8" r="4.4" fill="url(#gG)"/><circle cx="84.2" cy="485.5" r="4.5" fill="url(#gG)"/><circle cx="80.9" cy="490.9" r="5.4" fill="url(#gG)"/><circle cx="88.6" cy="492.4" r="5.4" fill="url(#gG)"/><circle cx="79.1" cy="510.4" r="5.5" fill="url(#gG)"/><circle cx="85.0" cy="510.8" r="4.6" fill="url(#gG)"/><circle cx="92.9" cy="511.5" r="5.1" fill="url(#gG)"/><circle cx="100.6" cy="510.9" r="4.5" fill="url(#gG)"/><circle cx="74.7" cy="517.1" r="4.8" fill="url(#gG)"/><circle cx="80.1" cy="517.9" r="5.0" fill="url(#gG)"/><circle cx="97.4" cy="516.6" r="5.5" fill="url(#gG)"/><circle cx="89.4" cy="517.9" r="5.3" fill="url(#gG)"/><circle cx="103.4" cy="518.1" r="5.6" fill="url(#gG)"/><circle cx="76.6" cy="522.3" r="4.7" fill="url(#gG)"/><circle cx="86.4" cy="523.1" r="5.2" fill="url(#gG)"/><circle cx="91.9" cy="523.3" r="4.9" fill="url(#gG)"/><circle cx="99.5" cy="523.6" r="5.2" fill="url(#gG)"/><circle cx="89.3" cy="528.8" r="5.5" fill="url(#gG)"/><circle cx="82.6" cy="530.7" r="5.7" fill="url(#gG)"/><circle cx="97.5" cy="530.9" r="5.2" fill="url(#gG)"/><circle cx="118.4" cy="501.7" r="4.9" fill="url(#gO)"/><circle cx="124.5" cy="501.5" r="4.4" fill="url(#gO)"/><circle cx="131.7" cy="503.6" r="5.3" fill="url(#gO)"/><circle cx="129.9" cy="507.7" r="5.0" fill="url(#gO)"/><circle cx="121.8" cy="509.5" r="5.3" fill="url(#gO)"/><circle cx="136.7" cy="508.9" r="4.5" fill="url(#gO)"/><circle cx="117.6" cy="514.2" r="5.4" fill="url(#gO)"/><circle cx="126.1" cy="515.4" r="4.6" fill="url(#gO)"/><circle cx="133.6" cy="515.5" r="5.4" fill="url(#gO)"/><circle cx="90.9" cy="485.2" r="4.5" fill="url(#gY)"/><circle cx="86.3" cy="489.9" r="5.2" fill="url(#gY)"/><circle cx="94.2" cy="489.2" r="4.8" fill="url(#gY)"/><circle cx="79.2" cy="491.7" r="4.7" fill="url(#gY)"/><circle cx="83.3" cy="496.3" r="5.6" fill="url(#gY)"/><circle cx="89.2" cy="497.6" r="4.7" fill="url(#gY)"/><circle cx="96.4" cy="498.3" r="4.8" fill="url(#gY)"/><circle cx="94.5" cy="503.0" r="5.8" fill="url(#gY)"/><circle cx="78.0" cy="505.2" r="5.7" fill="url(#gY)"/><circle cx="85.8" cy="505.1" r="5.2" fill="url(#gY)"/><circle cx="83.7" cy="509.9" r="5.0" fill="url(#gY)"/><circle cx="89.3" cy="509.5" r="4.6" fill="url(#gY)"/><circle cx="97.2" cy="510.7" r="4.5" fill="url(#gY)"/><circle cx="99.4" cy="475.4" r="5.0" fill="url(#gY)"/><circle cx="108.2" cy="475.3" r="5.1" fill="url(#gY)"/><circle cx="115.1" cy="475.1" r="4.9" fill="url(#gY)"/><circle cx="112.2" cy="480.8" r="4.7" fill="url(#gY)"/><circle cx="102.9" cy="482.1" r="5.5" fill="url(#gY)"/><circle cx="99.6" cy="486.7" r="4.9" fill="url(#gY)"/><circle cx="107.8" cy="487.3" r="5.9" fill="url(#gY)"/><circle cx="115.2" cy="487.0" r="5.5" fill="url(#gY)"/><circle cx="104.7" cy="494.5" r="5.5" fill="url(#gY)"/><circle cx="117.5" cy="494.1" r="5.4" fill="url(#gY)"/><circle cx="111.8" cy="495.3" r="5.9" fill="url(#gY)"/><circle cx="99.3" cy="501.3" r="4.7" fill="url(#gY)"/><circle cx="108.5" cy="501.1" r="4.7" fill="url(#gY)"/><circle cx="115.5" cy="500.5" r="4.9" fill="url(#gY)"/><circle cx="102.8" cy="508.7" r="5.5" fill="url(#gY)"/><circle cx="109.8" cy="508.5" r="4.6" fill="url(#gY)"/><circle cx="100.1" cy="513.7" r="5.1" fill="url(#gY)"/><circle cx="107.1" cy="513.2" r="5.9" fill="url(#gY)"/><circle cx="113.8" cy="514.1" r="5.6" fill="url(#gY)"/><circle cx="102.9" cy="522.2" r="5.8" fill="url(#gY)"/><circle cx="116.5" cy="463.4" r="4.7" fill="url(#gY)"/><circle cx="124.3" cy="463.4" r="5.7" fill="url(#gY)"/><circle cx="131.9" cy="462.8" r="5.4" fill="url(#gY)"/><circle cx="122.9" cy="469.0" r="5.7" fill="url(#gY)"/><circle cx="115.3" cy="470.4" r="5.1" fill="url(#gY)"/><circle cx="128.6" cy="469.2" r="4.7" fill="url(#gY)"/><circle cx="136.3" cy="471.1" r="4.8" fill="url(#gY)"/><circle cx="125.5" cy="475.6" r="4.7" fill="url(#gY)"/><circle cx="118.0" cy="477.2" r="5.1" fill="url(#gY)"/><circle cx="132.2" cy="477.3" r="5.2" fill="url(#gY)"/><circle cx="121.5" cy="482.9" r="5.7" fill="url(#gY)"/><circle cx="129.8" cy="482.7" r="5.4" fill="url(#gY)"/><circle cx="135.2" cy="484.3" r="5.3" fill="url(#gP)"/><circle cx="141.9" cy="485.3" r="6.3" fill="url(#gP)"/><circle cx="151.7" cy="486.1" r="5.5" fill="url(#gP)"/><circle cx="131.0" cy="492.4" r="5.1" fill="url(#gP)"/><circle cx="138.1" cy="491.8" r="5.3" fill="url(#gP)"/><circle cx="148.1" cy="491.8" r="6.2" fill="url(#gP)"/><circle cx="156.7" cy="491.4" r="5.5" fill="url(#gP)"/><circle cx="134.9" cy="498.9" r="5.8" fill="url(#gP)"/><circle cx="144.1" cy="499.1" r="4.9" fill="url(#gP)"/><circle cx="126.0" cy="501.1" r="5.1" fill="url(#gP)"/><circle cx="150.2" cy="500.0" r="5.0" fill="url(#gP)"/><circle cx="158.6" cy="499.9" r="6.3" fill="url(#gP)"/><circle cx="130.8" cy="506.1" r="5.8" fill="url(#gP)"/><circle cx="137.9" cy="507.5" r="6.3" fill="url(#gP)"/><circle cx="146.0" cy="507.4" r="5.8" fill="url(#gP)"/><circle cx="154.6" cy="506.6" r="6.4" fill="url(#gP)"/><circle cx="165.4" cy="506.2" r="6.0" fill="url(#gP)"/><circle cx="134.9" cy="513.3" r="5.5" fill="url(#gP)"/><circle cx="150.2" cy="514.1" r="6.2" fill="url(#gP)"/><circle cx="143.5" cy="514.8" r="6.1" fill="url(#gP)"/><circle cx="160.0" cy="514.4" r="5.5" fill="url(#gP)"/><circle cx="138.3" cy="521.7" r="5.2" fill="url(#gP)"/><circle cx="147.0" cy="521.4" r="5.1" fill="url(#gP)"/><circle cx="156.0" cy="520.7" r="6.1" fill="url(#gP)"/><circle cx="152.8" cy="469.0" r="4.8" fill="url(#gR)"/><circle cx="158.7" cy="469.2" r="5.3" fill="url(#gR)"/><circle cx="150.0" cy="476.1" r="4.6" fill="url(#gR)"/><circle cx="155.2" cy="476.3" r="4.7" fill="url(#gR)"/><circle cx="163.1" cy="476.3" r="4.3" fill="url(#gR)"/><circle cx="159.5" cy="480.5" r="4.2" fill="url(#gR)"/><circle cx="153.1" cy="483.1" r="5.4" fill="url(#gR)"/><circle cx="165.0" cy="483.0" r="4.5" fill="url(#gR)"/><circle cx="155.3" cy="487.8" r="4.7" fill="url(#gR)"/><circle cx="161.4" cy="487.9" r="5.2" fill="url(#gR)"/><circle cx="151.4" cy="492.8" r="4.7" fill="url(#gR)"/><circle cx="157.9" cy="493.6" r="5.2" fill="url(#gR)"/><circle cx="166.4" cy="493.7" r="5.2" fill="url(#gR)"/><circle cx="163.4" cy="498.4" r="4.4" fill="url(#gR)"/><circle cx="155.4" cy="499.8" r="4.3" fill="url(#gR)"/><circle cx="159.0" cy="505.2" r="4.5" fill="url(#gR)"/><circle cx="165.4" cy="505.7" r="4.4" fill="url(#gR)"/></g>
</svg>
</body></html>
